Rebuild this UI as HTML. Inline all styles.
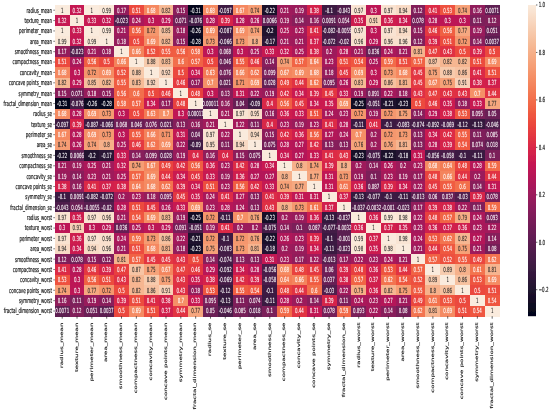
<!DOCTYPE html>
<html lang="en"><head><meta charset="utf-8"><title>Correlation heatmap</title>
<style>
html,body{margin:0;padding:0;background:#fff;}
body{width:550px;height:411px;overflow:hidden;}
svg{display:block;font-family:"DejaVu Sans","Liberation Sans",sans-serif;}
</style></head><body>
<svg width="550" height="411" viewBox="87.51 61.99 1379.95 585.75" preserveAspectRatio="none">
<rect x="87.51" y="61.99" width="1379.95" height="585.75" fill="#fff"/>
<defs><filter id="bl" x="-2%" y="-2%" width="104%" height="104%"><feGaussianBlur stdDeviation="0.75 0.4"/></filter></defs>
<g shape-rendering="crispEdges">
<rect x="225.00" y="69.12" width="37.70" height="15.28" fill="#faebdd"/>
<rect x="262.20" y="69.12" width="37.70" height="15.28" fill="#c51852"/>
<rect x="299.40" y="69.12" width="37.70" height="15.28" fill="#faebdd"/>
<rect x="336.60" y="69.12" width="37.70" height="15.28" fill="#fae8d8"/>
<rect x="373.80" y="69.12" width="37.70" height="15.28" fill="#931c5b"/>
<rect x="411.00" y="69.12" width="37.70" height="15.28" fill="#ec4a3e"/>
<rect x="448.20" y="69.12" width="37.70" height="15.28" fill="#f58860"/>
<rect x="485.40" y="69.12" width="37.70" height="15.28" fill="#f6b893"/>
<rect x="522.60" y="69.12" width="37.70" height="15.28" fill="#8b1d5b"/>
<rect x="559.80" y="69.12" width="37.70" height="15.28" fill="#03051a"/>
<rect x="597.00" y="69.12" width="37.70" height="15.28" fill="#f58a61"/>
<rect x="634.20" y="69.12" width="37.70" height="15.28" fill="#3d1a42"/>
<rect x="671.40" y="69.12" width="37.70" height="15.28" fill="#f58860"/>
<rect x="708.60" y="69.12" width="37.70" height="15.28" fill="#f69c73"/>
<rect x="745.80" y="69.12" width="37.70" height="15.28" fill="#1a102a"/>
<rect x="783.00" y="69.12" width="37.70" height="15.28" fill="#9f1a5b"/>
<rect x="820.20" y="69.12" width="37.70" height="15.28" fill="#9a1b5b"/>
<rect x="857.40" y="69.12" width="37.70" height="15.28" fill="#d3214b"/>
<rect x="894.60" y="69.12" width="37.70" height="15.28" fill="#3c1a42"/>
<rect x="931.80" y="69.12" width="37.70" height="15.28" fill="#4e1d4b"/>
<rect x="969.00" y="69.12" width="37.70" height="15.28" fill="#f9e3d2"/>
<rect x="1006.20" y="69.12" width="37.70" height="15.28" fill="#bc1656"/>
<rect x="1043.40" y="69.12" width="37.70" height="15.28" fill="#f9e2d0"/>
<rect x="1080.60" y="69.12" width="37.70" height="15.28" fill="#f8dac5"/>
<rect x="1117.80" y="69.12" width="37.70" height="15.28" fill="#821e5a"/>
<rect x="1155.00" y="69.12" width="37.70" height="15.28" fill="#dc2b46"/>
<rect x="1192.20" y="69.12" width="37.70" height="15.28" fill="#ee523f"/>
<rect x="1229.40" y="69.12" width="37.70" height="15.28" fill="#f6a077"/>
<rect x="1266.60" y="69.12" width="37.70" height="15.28" fill="#901d5b"/>
<rect x="1303.80" y="69.12" width="37.70" height="15.28" fill="#5e1f52"/>
<rect x="225.00" y="83.90" width="37.70" height="15.28" fill="#c51852"/>
<rect x="262.20" y="83.90" width="37.70" height="15.28" fill="#faebdd"/>
<rect x="299.40" y="83.90" width="37.70" height="15.28" fill="#c71951"/>
<rect x="336.60" y="83.90" width="37.70" height="15.28" fill="#c41753"/>
<rect x="373.80" y="83.90" width="37.70" height="15.28" fill="#541e4e"/>
<rect x="411.00" y="83.90" width="37.70" height="15.28" fill="#aa185a"/>
<rect x="448.20" y="83.90" width="37.70" height="15.28" fill="#bd1655"/>
<rect x="485.40" y="83.90" width="37.70" height="15.28" fill="#bc1656"/>
<rect x="522.60" y="83.90" width="37.70" height="15.28" fill="#711f57"/>
<rect x="559.80" y="83.90" width="37.70" height="15.28" fill="#431c46"/>
<rect x="597.00" y="83.90" width="37.70" height="15.28" fill="#b51657"/>
<rect x="634.20" y="83.90" width="37.70" height="15.28" fill="#d62449"/>
<rect x="671.40" y="83.90" width="37.70" height="15.28" fill="#b71657"/>
<rect x="708.60" y="83.90" width="37.70" height="15.28" fill="#b01759"/>
<rect x="745.80" y="83.90" width="37.70" height="15.28" fill="#5e1f52"/>
<rect x="783.00" y="83.90" width="37.70" height="15.28" fill="#9a1b5b"/>
<rect x="820.20" y="83.90" width="37.70" height="15.28" fill="#891e5b"/>
<rect x="857.40" y="83.90" width="37.70" height="15.28" fill="#901d5b"/>
<rect x="894.60" y="83.90" width="37.70" height="15.28" fill="#5e1f52"/>
<rect x="931.80" y="83.90" width="37.70" height="15.28" fill="#6d1f56"/>
<rect x="969.00" y="83.90" width="37.70" height="15.28" fill="#cd1c4e"/>
<rect x="1006.20" y="83.90" width="37.70" height="15.28" fill="#f8d1b8"/>
<rect x="1043.40" y="83.90" width="37.70" height="15.28" fill="#ce1d4e"/>
<rect x="1080.60" y="83.90" width="37.70" height="15.28" fill="#ca1a50"/>
<rect x="1117.80" y="83.90" width="37.70" height="15.28" fill="#731f58"/>
<rect x="1155.00" y="83.90" width="37.70" height="15.28" fill="#b71657"/>
<rect x="1192.20" y="83.90" width="37.70" height="15.28" fill="#bd1655"/>
<rect x="1229.40" y="83.90" width="37.70" height="15.28" fill="#bc1656"/>
<rect x="1266.60" y="83.90" width="37.70" height="15.28" fill="#7d1f5a"/>
<rect x="1303.80" y="83.90" width="37.70" height="15.28" fill="#821e5a"/>
<rect x="225.00" y="98.69" width="37.70" height="15.28" fill="#faebdd"/>
<rect x="262.20" y="98.69" width="37.70" height="15.28" fill="#c71951"/>
<rect x="299.40" y="98.69" width="37.70" height="15.28" fill="#faebdd"/>
<rect x="336.60" y="98.69" width="37.70" height="15.28" fill="#fae8d8"/>
<rect x="373.80" y="98.69" width="37.70" height="15.28" fill="#9f1a5b"/>
<rect x="411.00" y="98.69" width="37.70" height="15.28" fill="#f05e42"/>
<rect x="448.20" y="98.69" width="37.70" height="15.28" fill="#f5966c"/>
<rect x="485.40" y="98.69" width="37.70" height="15.28" fill="#f6bf9d"/>
<rect x="522.60" y="98.69" width="37.70" height="15.28" fill="#971c5b"/>
<rect x="559.80" y="98.69" width="37.70" height="15.28" fill="#0e0b22"/>
<rect x="597.00" y="98.69" width="37.70" height="15.28" fill="#f58d64"/>
<rect x="634.20" y="98.69" width="37.70" height="15.28" fill="#401b44"/>
<rect x="671.40" y="98.69" width="37.70" height="15.28" fill="#f58f66"/>
<rect x="708.60" y="98.69" width="37.70" height="15.28" fill="#f6a077"/>
<rect x="745.80" y="98.69" width="37.70" height="15.28" fill="#20122e"/>
<rect x="783.00" y="98.69" width="37.70" height="15.28" fill="#ad1759"/>
<rect x="820.20" y="98.69" width="37.70" height="15.28" fill="#a6195a"/>
<rect x="857.40" y="98.69" width="37.70" height="15.28" fill="#db2946"/>
<rect x="894.60" y="98.69" width="37.70" height="15.28" fill="#421b45"/>
<rect x="931.80" y="98.69" width="37.70" height="15.28" fill="#591e50"/>
<rect x="969.00" y="98.69" width="37.70" height="15.28" fill="#f9e3d2"/>
<rect x="1006.20" y="98.69" width="37.70" height="15.28" fill="#bd1655"/>
<rect x="1043.40" y="98.69" width="37.70" height="15.28" fill="#f9e3d2"/>
<rect x="1080.60" y="98.69" width="37.70" height="15.28" fill="#f8dac5"/>
<rect x="1117.80" y="98.69" width="37.70" height="15.28" fill="#8c1d5b"/>
<rect x="1155.00" y="98.69" width="37.70" height="15.28" fill="#e43841"/>
<rect x="1192.20" y="98.69" width="37.70" height="15.28" fill="#f06043"/>
<rect x="1229.40" y="98.69" width="37.70" height="15.28" fill="#f6a880"/>
<rect x="1266.60" y="98.69" width="37.70" height="15.28" fill="#981b5b"/>
<rect x="1303.80" y="98.69" width="37.70" height="15.28" fill="#6b1f56"/>
<rect x="225.00" y="113.47" width="37.70" height="15.28" fill="#fae8d8"/>
<rect x="262.20" y="113.47" width="37.70" height="15.28" fill="#c41753"/>
<rect x="299.40" y="113.47" width="37.70" height="15.28" fill="#fae8d8"/>
<rect x="336.60" y="113.47" width="37.70" height="15.28" fill="#faebdd"/>
<rect x="373.80" y="113.47" width="37.70" height="15.28" fill="#951c5b"/>
<rect x="411.00" y="113.47" width="37.70" height="15.28" fill="#eb483e"/>
<rect x="448.20" y="113.47" width="37.70" height="15.28" fill="#f58b63"/>
<rect x="485.40" y="113.47" width="37.70" height="15.28" fill="#f6b893"/>
<rect x="522.60" y="113.47" width="37.70" height="15.28" fill="#8c1d5b"/>
<rect x="559.80" y="113.47" width="37.70" height="15.28" fill="#08081e"/>
<rect x="597.00" y="113.47" width="37.70" height="15.28" fill="#f69b71"/>
<rect x="634.20" y="113.47" width="37.70" height="15.28" fill="#461c48"/>
<rect x="671.40" y="113.47" width="37.70" height="15.28" fill="#f59970"/>
<rect x="708.60" y="113.47" width="37.70" height="15.28" fill="#f6b089"/>
<rect x="745.80" y="113.47" width="37.70" height="15.28" fill="#2a1636"/>
<rect x="783.00" y="113.47" width="37.70" height="15.28" fill="#a11a5b"/>
<rect x="820.20" y="113.47" width="37.70" height="15.28" fill="#9f1a5b"/>
<rect x="857.40" y="113.47" width="37.70" height="15.28" fill="#d2204c"/>
<rect x="894.60" y="113.47" width="37.70" height="15.28" fill="#451c47"/>
<rect x="931.80" y="113.47" width="37.70" height="15.28" fill="#541e4e"/>
<rect x="969.00" y="113.47" width="37.70" height="15.28" fill="#f9e0cd"/>
<rect x="1006.20" y="113.47" width="37.70" height="15.28" fill="#b91657"/>
<rect x="1043.40" y="113.47" width="37.70" height="15.28" fill="#f9e0cd"/>
<rect x="1080.60" y="113.47" width="37.70" height="15.28" fill="#f9e0cd"/>
<rect x="1117.80" y="113.47" width="37.70" height="15.28" fill="#821e5a"/>
<rect x="1155.00" y="113.47" width="37.70" height="15.28" fill="#d72549"/>
<rect x="1192.20" y="113.47" width="37.70" height="15.28" fill="#ec4c3e"/>
<rect x="1229.40" y="113.47" width="37.70" height="15.28" fill="#f5976e"/>
<rect x="1266.60" y="113.47" width="37.70" height="15.28" fill="#891e5b"/>
<rect x="1303.80" y="113.47" width="37.70" height="15.28" fill="#5c1e51"/>
<rect x="225.00" y="128.26" width="37.70" height="15.28" fill="#931c5b"/>
<rect x="262.20" y="128.26" width="37.70" height="15.28" fill="#541e4e"/>
<rect x="299.40" y="128.26" width="37.70" height="15.28" fill="#9f1a5b"/>
<rect x="336.60" y="128.26" width="37.70" height="15.28" fill="#951c5b"/>
<rect x="373.80" y="128.26" width="37.70" height="15.28" fill="#faebdd"/>
<rect x="411.00" y="128.26" width="37.70" height="15.28" fill="#f4835b"/>
<rect x="448.20" y="128.26" width="37.70" height="15.28" fill="#ed503e"/>
<rect x="485.40" y="128.26" width="37.70" height="15.28" fill="#f05c42"/>
<rect x="522.60" y="128.26" width="37.70" height="15.28" fill="#f05e42"/>
<rect x="559.80" y="128.26" width="37.70" height="15.28" fill="#f26747"/>
<rect x="597.00" y="128.26" width="37.70" height="15.28" fill="#bd1655"/>
<rect x="634.20" y="128.26" width="37.70" height="15.28" fill="#711f57"/>
<rect x="671.40" y="128.26" width="37.70" height="15.28" fill="#bc1656"/>
<rect x="708.60" y="128.26" width="37.70" height="15.28" fill="#ab185a"/>
<rect x="745.80" y="128.26" width="37.70" height="15.28" fill="#c71951"/>
<rect x="783.00" y="128.26" width="37.70" height="15.28" fill="#c41753"/>
<rect x="820.20" y="128.26" width="37.70" height="15.28" fill="#ad1759"/>
<rect x="857.40" y="128.26" width="37.70" height="15.28" fill="#d5224a"/>
<rect x="894.60" y="128.26" width="37.70" height="15.28" fill="#9e1a5b"/>
<rect x="931.80" y="128.26" width="37.70" height="15.28" fill="#b91657"/>
<rect x="969.00" y="128.26" width="37.70" height="15.28" fill="#a11a5b"/>
<rect x="1006.20" y="128.26" width="37.70" height="15.28" fill="#661f54"/>
<rect x="1043.40" y="128.26" width="37.70" height="15.28" fill="#aa185a"/>
<rect x="1080.60" y="128.26" width="37.70" height="15.28" fill="#9f1a5b"/>
<rect x="1117.80" y="128.26" width="37.70" height="15.28" fill="#f6b38d"/>
<rect x="1155.00" y="128.26" width="37.70" height="15.28" fill="#e83f3f"/>
<rect x="1192.20" y="128.26" width="37.70" height="15.28" fill="#e03143"/>
<rect x="1229.40" y="128.26" width="37.70" height="15.28" fill="#ec4a3e"/>
<rect x="1266.60" y="128.26" width="37.70" height="15.28" fill="#d72549"/>
<rect x="1303.80" y="128.26" width="37.70" height="15.28" fill="#eb483e"/>
<rect x="225.00" y="143.04" width="37.70" height="15.28" fill="#ec4a3e"/>
<rect x="262.20" y="143.04" width="37.70" height="15.28" fill="#aa185a"/>
<rect x="299.40" y="143.04" width="37.70" height="15.28" fill="#f05e42"/>
<rect x="336.60" y="143.04" width="37.70" height="15.28" fill="#eb483e"/>
<rect x="373.80" y="143.04" width="37.70" height="15.28" fill="#f4835b"/>
<rect x="411.00" y="143.04" width="37.70" height="15.28" fill="#faebdd"/>
<rect x="448.20" y="143.04" width="37.70" height="15.28" fill="#f7caac"/>
<rect x="485.40" y="143.04" width="37.70" height="15.28" fill="#f6bb97"/>
<rect x="522.60" y="143.04" width="37.70" height="15.28" fill="#f26f4c"/>
<rect x="559.80" y="143.04" width="37.70" height="15.28" fill="#f16244"/>
<rect x="597.00" y="143.04" width="37.70" height="15.28" fill="#eb463e"/>
<rect x="634.20" y="143.04" width="37.70" height="15.28" fill="#691f55"/>
<rect x="671.40" y="143.04" width="37.70" height="15.28" fill="#ef5a41"/>
<rect x="708.60" y="143.04" width="37.70" height="15.28" fill="#e43841"/>
<rect x="745.80" y="143.04" width="37.70" height="15.28" fill="#871e5b"/>
<rect x="783.00" y="143.04" width="37.70" height="15.28" fill="#f69e75"/>
<rect x="820.20" y="143.04" width="37.70" height="15.28" fill="#f16445"/>
<rect x="857.40" y="143.04" width="37.70" height="15.28" fill="#f47d57"/>
<rect x="894.60" y="143.04" width="37.70" height="15.28" fill="#a6195a"/>
<rect x="931.80" y="143.04" width="37.70" height="15.28" fill="#ec4a3e"/>
<rect x="969.00" y="143.04" width="37.70" height="15.28" fill="#ef5640"/>
<rect x="1006.20" y="143.04" width="37.70" height="15.28" fill="#ad1759"/>
<rect x="1043.40" y="143.04" width="37.70" height="15.28" fill="#f26b49"/>
<rect x="1080.60" y="143.04" width="37.70" height="15.28" fill="#ec4c3e"/>
<rect x="1117.80" y="143.04" width="37.70" height="15.28" fill="#f16244"/>
<rect x="1155.00" y="143.04" width="37.70" height="15.28" fill="#f7c4a4"/>
<rect x="1192.20" y="143.04" width="37.70" height="15.28" fill="#f6b691"/>
<rect x="1229.40" y="143.04" width="37.70" height="15.28" fill="#f6b691"/>
<rect x="1266.60" y="143.04" width="37.70" height="15.28" fill="#ec4c3e"/>
<rect x="1303.80" y="143.04" width="37.70" height="15.28" fill="#f58b63"/>
<rect x="225.00" y="157.82" width="37.70" height="15.28" fill="#f58860"/>
<rect x="262.20" y="157.82" width="37.70" height="15.28" fill="#bd1655"/>
<rect x="299.40" y="157.82" width="37.70" height="15.28" fill="#f5966c"/>
<rect x="336.60" y="157.82" width="37.70" height="15.28" fill="#f58b63"/>
<rect x="373.80" y="157.82" width="37.70" height="15.28" fill="#ed503e"/>
<rect x="411.00" y="157.82" width="37.70" height="15.28" fill="#f7caac"/>
<rect x="448.20" y="157.82" width="37.70" height="15.28" fill="#faebdd"/>
<rect x="485.40" y="157.82" width="37.70" height="15.28" fill="#f8d4bc"/>
<rect x="522.60" y="157.82" width="37.70" height="15.28" fill="#eb483e"/>
<rect x="559.80" y="157.82" width="37.70" height="15.28" fill="#c81951"/>
<rect x="597.00" y="157.82" width="37.70" height="15.28" fill="#f47a54"/>
<rect x="634.20" y="157.82" width="37.70" height="15.28" fill="#731f58"/>
<rect x="671.40" y="157.82" width="37.70" height="15.28" fill="#f4835b"/>
<rect x="708.60" y="157.82" width="37.70" height="15.28" fill="#f37450"/>
<rect x="745.80" y="157.82" width="37.70" height="15.28" fill="#7b1f59"/>
<rect x="783.00" y="157.82" width="37.70" height="15.28" fill="#f4865e"/>
<rect x="820.20" y="157.82" width="37.70" height="15.28" fill="#f58d64"/>
<rect x="857.40" y="157.82" width="37.70" height="15.28" fill="#f58b63"/>
<rect x="894.60" y="157.82" width="37.70" height="15.28" fill="#951c5b"/>
<rect x="931.80" y="157.82" width="37.70" height="15.28" fill="#e33641"/>
<rect x="969.00" y="157.82" width="37.70" height="15.28" fill="#f58d64"/>
<rect x="1006.20" y="157.82" width="37.70" height="15.28" fill="#bd1655"/>
<rect x="1043.40" y="157.82" width="37.70" height="15.28" fill="#f69b71"/>
<rect x="1080.60" y="157.82" width="37.70" height="15.28" fill="#f58860"/>
<rect x="1117.80" y="157.82" width="37.70" height="15.28" fill="#e33641"/>
<rect x="1155.00" y="157.82" width="37.70" height="15.28" fill="#f6a37a"/>
<rect x="1192.20" y="157.82" width="37.70" height="15.28" fill="#f7caac"/>
<rect x="1229.40" y="157.82" width="37.70" height="15.28" fill="#f7c2a2"/>
<rect x="1266.60" y="157.82" width="37.70" height="15.28" fill="#db2946"/>
<rect x="1303.80" y="157.82" width="37.70" height="15.28" fill="#ed4e3e"/>
<rect x="225.00" y="172.61" width="37.70" height="15.28" fill="#f6b893"/>
<rect x="262.20" y="172.61" width="37.70" height="15.28" fill="#bc1656"/>
<rect x="299.40" y="172.61" width="37.70" height="15.28" fill="#f6bf9d"/>
<rect x="336.60" y="172.61" width="37.70" height="15.28" fill="#f6b893"/>
<rect x="373.80" y="172.61" width="37.70" height="15.28" fill="#f05c42"/>
<rect x="411.00" y="172.61" width="37.70" height="15.28" fill="#f6bb97"/>
<rect x="448.20" y="172.61" width="37.70" height="15.28" fill="#f8d4bc"/>
<rect x="485.40" y="172.61" width="37.70" height="15.28" fill="#faebdd"/>
<rect x="522.60" y="172.61" width="37.70" height="15.28" fill="#e63b40"/>
<rect x="559.80" y="172.61" width="37.70" height="15.28" fill="#921c5b"/>
<rect x="597.00" y="172.61" width="37.70" height="15.28" fill="#f59067"/>
<rect x="634.20" y="172.61" width="37.70" height="15.28" fill="#631f53"/>
<rect x="671.40" y="172.61" width="37.70" height="15.28" fill="#f5946b"/>
<rect x="708.60" y="172.61" width="37.70" height="15.28" fill="#f58d64"/>
<rect x="745.80" y="172.61" width="37.70" height="15.28" fill="#641f54"/>
<rect x="783.00" y="172.61" width="37.70" height="15.28" fill="#ea443e"/>
<rect x="820.20" y="172.61" width="37.70" height="15.28" fill="#e13342"/>
<rect x="857.40" y="172.61" width="37.70" height="15.28" fill="#f3734e"/>
<rect x="894.60" y="172.61" width="37.70" height="15.28" fill="#7a1f59"/>
<rect x="931.80" y="172.61" width="37.70" height="15.28" fill="#b01759"/>
<rect x="969.00" y="172.61" width="37.70" height="15.28" fill="#f6b995"/>
<rect x="1006.20" y="172.61" width="37.70" height="15.28" fill="#ba1656"/>
<rect x="1043.40" y="172.61" width="37.70" height="15.28" fill="#f6c19f"/>
<rect x="1080.60" y="172.61" width="37.70" height="15.28" fill="#f6b38d"/>
<rect x="1117.80" y="172.61" width="37.70" height="15.28" fill="#e43841"/>
<rect x="1155.00" y="172.61" width="37.70" height="15.28" fill="#f4865e"/>
<rect x="1192.20" y="172.61" width="37.70" height="15.28" fill="#f6a178"/>
<rect x="1229.40" y="172.61" width="37.70" height="15.28" fill="#f8d1b8"/>
<rect x="1266.60" y="172.61" width="37.70" height="15.28" fill="#d3214b"/>
<rect x="1303.80" y="172.61" width="37.70" height="15.28" fill="#d11f4c"/>
<rect x="225.00" y="187.39" width="37.70" height="15.28" fill="#8b1d5b"/>
<rect x="262.20" y="187.39" width="37.70" height="15.28" fill="#711f57"/>
<rect x="299.40" y="187.39" width="37.70" height="15.28" fill="#971c5b"/>
<rect x="336.60" y="187.39" width="37.70" height="15.28" fill="#8c1d5b"/>
<rect x="373.80" y="187.39" width="37.70" height="15.28" fill="#f05e42"/>
<rect x="411.00" y="187.39" width="37.70" height="15.28" fill="#f26f4c"/>
<rect x="448.20" y="187.39" width="37.70" height="15.28" fill="#eb483e"/>
<rect x="485.40" y="187.39" width="37.70" height="15.28" fill="#e63b40"/>
<rect x="522.60" y="187.39" width="37.70" height="15.28" fill="#faebdd"/>
<rect x="559.80" y="187.39" width="37.70" height="15.28" fill="#e8403e"/>
<rect x="597.00" y="187.39" width="37.70" height="15.28" fill="#bf1654"/>
<rect x="634.20" y="187.39" width="37.70" height="15.28" fill="#841e5a"/>
<rect x="671.40" y="187.39" width="37.70" height="15.28" fill="#c21753"/>
<rect x="708.60" y="187.39" width="37.70" height="15.28" fill="#a4195b"/>
<rect x="745.80" y="187.39" width="37.70" height="15.28" fill="#981b5b"/>
<rect x="783.00" y="187.39" width="37.70" height="15.28" fill="#de2e44"/>
<rect x="820.20" y="187.39" width="37.70" height="15.28" fill="#ca1a50"/>
<rect x="857.40" y="187.39" width="37.70" height="15.28" fill="#d72549"/>
<rect x="894.60" y="187.39" width="37.70" height="15.28" fill="#e33641"/>
<rect x="931.80" y="187.39" width="37.70" height="15.28" fill="#c71951"/>
<rect x="969.00" y="187.39" width="37.70" height="15.28" fill="#981b5b"/>
<rect x="1006.20" y="187.39" width="37.70" height="15.28" fill="#781f59"/>
<rect x="1043.40" y="187.39" width="37.70" height="15.28" fill="#a3195b"/>
<rect x="1080.60" y="187.39" width="37.70" height="15.28" fill="#951c5b"/>
<rect x="1117.80" y="187.39" width="37.70" height="15.28" fill="#df2f44"/>
<rect x="1155.00" y="187.39" width="37.70" height="15.28" fill="#e83f3f"/>
<rect x="1192.20" y="187.39" width="37.70" height="15.28" fill="#e03143"/>
<rect x="1229.40" y="187.39" width="37.70" height="15.28" fill="#df2f44"/>
<rect x="1266.60" y="187.39" width="37.70" height="15.28" fill="#f59067"/>
<rect x="1303.80" y="187.39" width="37.70" height="15.28" fill="#e13342"/>
<rect x="225.00" y="202.18" width="37.70" height="15.28" fill="#03051a"/>
<rect x="262.20" y="202.18" width="37.70" height="15.28" fill="#431c46"/>
<rect x="299.40" y="202.18" width="37.70" height="15.28" fill="#0e0b22"/>
<rect x="336.60" y="202.18" width="37.70" height="15.28" fill="#08081e"/>
<rect x="373.80" y="202.18" width="37.70" height="15.28" fill="#f26747"/>
<rect x="411.00" y="202.18" width="37.70" height="15.28" fill="#f16244"/>
<rect x="448.20" y="202.18" width="37.70" height="15.28" fill="#c81951"/>
<rect x="485.40" y="202.18" width="37.70" height="15.28" fill="#921c5b"/>
<rect x="522.60" y="202.18" width="37.70" height="15.28" fill="#e8403e"/>
<rect x="559.80" y="202.18" width="37.70" height="15.28" fill="#faebdd"/>
<rect x="597.00" y="202.18" width="37.70" height="15.28" fill="#5b1e51"/>
<rect x="634.20" y="202.18" width="37.70" height="15.28" fill="#901d5b"/>
<rect x="671.40" y="202.18" width="37.70" height="15.28" fill="#681f55"/>
<rect x="708.60" y="202.18" width="37.70" height="15.28" fill="#401b44"/>
<rect x="745.80" y="202.18" width="37.70" height="15.28" fill="#d92847"/>
<rect x="783.00" y="202.18" width="37.70" height="15.28" fill="#f06043"/>
<rect x="820.20" y="202.18" width="37.70" height="15.28" fill="#e23442"/>
<rect x="857.40" y="202.18" width="37.70" height="15.28" fill="#ca1a50"/>
<rect x="894.60" y="202.18" width="37.70" height="15.28" fill="#cb1b4f"/>
<rect x="931.80" y="202.18" width="37.70" height="15.28" fill="#f58d64"/>
<rect x="969.00" y="202.18" width="37.70" height="15.28" fill="#110c24"/>
<rect x="1006.20" y="202.18" width="37.70" height="15.28" fill="#4b1d4a"/>
<rect x="1043.40" y="202.18" width="37.70" height="15.28" fill="#1e122d"/>
<rect x="1080.60" y="202.18" width="37.70" height="15.28" fill="#170f28"/>
<rect x="1117.80" y="202.18" width="37.70" height="15.28" fill="#ec4a3e"/>
<rect x="1155.00" y="202.18" width="37.70" height="15.28" fill="#e53940"/>
<rect x="1192.20" y="202.18" width="37.70" height="15.28" fill="#cb1b4f"/>
<rect x="1229.40" y="202.18" width="37.70" height="15.28" fill="#951c5b"/>
<rect x="1266.60" y="202.18" width="37.70" height="15.28" fill="#c81951"/>
<rect x="1303.80" y="202.18" width="37.70" height="15.28" fill="#f6a67e"/>
<rect x="225.00" y="216.96" width="37.70" height="15.28" fill="#f58a61"/>
<rect x="262.20" y="216.96" width="37.70" height="15.28" fill="#b51657"/>
<rect x="299.40" y="216.96" width="37.70" height="15.28" fill="#f58d64"/>
<rect x="336.60" y="216.96" width="37.70" height="15.28" fill="#f69b71"/>
<rect x="373.80" y="216.96" width="37.70" height="15.28" fill="#bd1655"/>
<rect x="411.00" y="216.96" width="37.70" height="15.28" fill="#eb463e"/>
<rect x="448.20" y="216.96" width="37.70" height="15.28" fill="#f47a54"/>
<rect x="485.40" y="216.96" width="37.70" height="15.28" fill="#f59067"/>
<rect x="522.60" y="216.96" width="37.70" height="15.28" fill="#bf1654"/>
<rect x="559.80" y="216.96" width="37.70" height="15.28" fill="#5b1e51"/>
<rect x="597.00" y="216.96" width="37.70" height="15.28" fill="#faebdd"/>
<rect x="634.20" y="216.96" width="37.70" height="15.28" fill="#a11a5b"/>
<rect x="671.40" y="216.96" width="37.70" height="15.28" fill="#f9e3d2"/>
<rect x="708.60" y="216.96" width="37.70" height="15.28" fill="#f9ddc9"/>
<rect x="745.80" y="216.96" width="37.70" height="15.28" fill="#901d5b"/>
<rect x="783.00" y="216.96" width="37.70" height="15.28" fill="#ce1d4e"/>
<rect x="820.20" y="216.96" width="37.70" height="15.28" fill="#c71951"/>
<rect x="857.40" y="216.96" width="37.70" height="15.28" fill="#ed4e3e"/>
<rect x="894.60" y="216.96" width="37.70" height="15.28" fill="#aa185a"/>
<rect x="931.80" y="216.96" width="37.70" height="15.28" fill="#a6195a"/>
<rect x="969.00" y="216.96" width="37.70" height="15.28" fill="#f5966c"/>
<rect x="1006.20" y="216.96" width="37.70" height="15.28" fill="#9a1b5b"/>
<rect x="1043.40" y="216.96" width="37.70" height="15.28" fill="#f5976e"/>
<rect x="1080.60" y="216.96" width="37.70" height="15.28" fill="#f6a178"/>
<rect x="1117.80" y="216.96" width="37.70" height="15.28" fill="#891e5b"/>
<rect x="1155.00" y="216.96" width="37.70" height="15.28" fill="#b91657"/>
<rect x="1192.20" y="216.96" width="37.70" height="15.28" fill="#d5224a"/>
<rect x="1229.40" y="216.96" width="37.70" height="15.28" fill="#ee543f"/>
<rect x="1266.60" y="216.96" width="37.70" height="15.28" fill="#7a1f59"/>
<rect x="1303.80" y="216.96" width="37.70" height="15.28" fill="#6b1f56"/>
<rect x="225.00" y="231.74" width="37.70" height="15.28" fill="#3d1a42"/>
<rect x="262.20" y="231.74" width="37.70" height="15.28" fill="#d62449"/>
<rect x="299.40" y="231.74" width="37.70" height="15.28" fill="#401b44"/>
<rect x="336.60" y="231.74" width="37.70" height="15.28" fill="#461c48"/>
<rect x="373.80" y="231.74" width="37.70" height="15.28" fill="#711f57"/>
<rect x="411.00" y="231.74" width="37.70" height="15.28" fill="#691f55"/>
<rect x="448.20" y="231.74" width="37.70" height="15.28" fill="#731f58"/>
<rect x="485.40" y="231.74" width="37.70" height="15.28" fill="#631f53"/>
<rect x="522.60" y="231.74" width="37.70" height="15.28" fill="#841e5a"/>
<rect x="559.80" y="231.74" width="37.70" height="15.28" fill="#901d5b"/>
<rect x="597.00" y="231.74" width="37.70" height="15.28" fill="#a11a5b"/>
<rect x="634.20" y="231.74" width="37.70" height="15.28" fill="#faebdd"/>
<rect x="671.40" y="231.74" width="37.70" height="15.28" fill="#a4195b"/>
<rect x="708.60" y="231.74" width="37.70" height="15.28" fill="#7f1e5a"/>
<rect x="745.80" y="231.74" width="37.70" height="15.28" fill="#d82748"/>
<rect x="783.00" y="231.74" width="37.70" height="15.28" fill="#a8185a"/>
<rect x="820.20" y="231.74" width="37.70" height="15.28" fill="#9a1b5b"/>
<rect x="857.40" y="231.74" width="37.70" height="15.28" fill="#a6195a"/>
<rect x="894.60" y="231.74" width="37.70" height="15.28" fill="#dc2b46"/>
<rect x="931.80" y="231.74" width="37.70" height="15.28" fill="#b71657"/>
<rect x="969.00" y="231.74" width="37.70" height="15.28" fill="#3a1a41"/>
<rect x="1006.20" y="231.74" width="37.70" height="15.28" fill="#db2946"/>
<rect x="1043.40" y="231.74" width="37.70" height="15.28" fill="#3c1a42"/>
<rect x="1080.60" y="231.74" width="37.70" height="15.28" fill="#421b45"/>
<rect x="1117.80" y="231.74" width="37.70" height="15.28" fill="#451c47"/>
<rect x="1155.00" y="231.74" width="37.70" height="15.28" fill="#3f1b43"/>
<rect x="1192.20" y="231.74" width="37.70" height="15.28" fill="#461c48"/>
<rect x="1229.40" y="231.74" width="37.70" height="15.28" fill="#37193f"/>
<rect x="1266.60" y="231.74" width="37.70" height="15.28" fill="#34193d"/>
<rect x="1303.80" y="231.74" width="37.70" height="15.28" fill="#4c1d4b"/>
<rect x="225.00" y="246.53" width="37.70" height="15.28" fill="#f58860"/>
<rect x="262.20" y="246.53" width="37.70" height="15.28" fill="#b71657"/>
<rect x="299.40" y="246.53" width="37.70" height="15.28" fill="#f58f66"/>
<rect x="336.60" y="246.53" width="37.70" height="15.28" fill="#f59970"/>
<rect x="373.80" y="246.53" width="37.70" height="15.28" fill="#bc1656"/>
<rect x="411.00" y="246.53" width="37.70" height="15.28" fill="#ef5a41"/>
<rect x="448.20" y="246.53" width="37.70" height="15.28" fill="#f4835b"/>
<rect x="485.40" y="246.53" width="37.70" height="15.28" fill="#f5946b"/>
<rect x="522.60" y="246.53" width="37.70" height="15.28" fill="#c21753"/>
<rect x="559.80" y="246.53" width="37.70" height="15.28" fill="#681f55"/>
<rect x="597.00" y="246.53" width="37.70" height="15.28" fill="#f9e3d2"/>
<rect x="634.20" y="246.53" width="37.70" height="15.28" fill="#a4195b"/>
<rect x="671.40" y="246.53" width="37.70" height="15.28" fill="#faebdd"/>
<rect x="708.60" y="246.53" width="37.70" height="15.28" fill="#f8d9c3"/>
<rect x="745.80" y="246.53" width="37.70" height="15.28" fill="#8c1d5b"/>
<rect x="783.00" y="246.53" width="37.70" height="15.28" fill="#dd2c45"/>
<rect x="820.20" y="246.53" width="37.70" height="15.28" fill="#cf1e4d"/>
<rect x="857.40" y="246.53" width="37.70" height="15.28" fill="#f05e42"/>
<rect x="894.60" y="246.53" width="37.70" height="15.28" fill="#b21758"/>
<rect x="931.80" y="246.53" width="37.70" height="15.28" fill="#ab185a"/>
<rect x="969.00" y="246.53" width="37.70" height="15.28" fill="#f58f66"/>
<rect x="1006.20" y="246.53" width="37.70" height="15.28" fill="#9c1b5b"/>
<rect x="1043.40" y="246.53" width="37.70" height="15.28" fill="#f5976e"/>
<rect x="1080.60" y="246.53" width="37.70" height="15.28" fill="#f69b71"/>
<rect x="1117.80" y="246.53" width="37.70" height="15.28" fill="#861e5b"/>
<rect x="1155.00" y="246.53" width="37.70" height="15.28" fill="#ca1a50"/>
<rect x="1192.20" y="246.53" width="37.70" height="15.28" fill="#dd2c45"/>
<rect x="1229.40" y="246.53" width="37.70" height="15.28" fill="#f05e42"/>
<rect x="1266.60" y="246.53" width="37.70" height="15.28" fill="#7f1e5a"/>
<rect x="1303.80" y="246.53" width="37.70" height="15.28" fill="#761f58"/>
<rect x="225.00" y="261.31" width="37.70" height="15.28" fill="#f69c73"/>
<rect x="262.20" y="261.31" width="37.70" height="15.28" fill="#b01759"/>
<rect x="299.40" y="261.31" width="37.70" height="15.28" fill="#f6a077"/>
<rect x="336.60" y="261.31" width="37.70" height="15.28" fill="#f6b089"/>
<rect x="373.80" y="261.31" width="37.70" height="15.28" fill="#ab185a"/>
<rect x="411.00" y="261.31" width="37.70" height="15.28" fill="#e43841"/>
<rect x="448.20" y="261.31" width="37.70" height="15.28" fill="#f37450"/>
<rect x="485.40" y="261.31" width="37.70" height="15.28" fill="#f58d64"/>
<rect x="522.60" y="261.31" width="37.70" height="15.28" fill="#a4195b"/>
<rect x="559.80" y="261.31" width="37.70" height="15.28" fill="#401b44"/>
<rect x="597.00" y="261.31" width="37.70" height="15.28" fill="#f9ddc9"/>
<rect x="634.20" y="261.31" width="37.70" height="15.28" fill="#7f1e5a"/>
<rect x="671.40" y="261.31" width="37.70" height="15.28" fill="#f8d9c3"/>
<rect x="708.60" y="261.31" width="37.70" height="15.28" fill="#faebdd"/>
<rect x="745.80" y="261.31" width="37.70" height="15.28" fill="#731f58"/>
<rect x="783.00" y="261.31" width="37.70" height="15.28" fill="#b91657"/>
<rect x="820.20" y="261.31" width="37.70" height="15.28" fill="#b41658"/>
<rect x="857.40" y="261.31" width="37.70" height="15.28" fill="#dc2b46"/>
<rect x="894.60" y="261.31" width="37.70" height="15.28" fill="#861e5b"/>
<rect x="931.80" y="261.31" width="37.70" height="15.28" fill="#841e5a"/>
<rect x="969.00" y="261.31" width="37.70" height="15.28" fill="#f6a37a"/>
<rect x="1006.20" y="261.31" width="37.70" height="15.28" fill="#9c1b5b"/>
<rect x="1043.40" y="261.31" width="37.70" height="15.28" fill="#f6a47c"/>
<rect x="1080.60" y="261.31" width="37.70" height="15.28" fill="#f6b48f"/>
<rect x="1117.80" y="261.31" width="37.70" height="15.28" fill="#841e5a"/>
<rect x="1155.00" y="261.31" width="37.70" height="15.28" fill="#b91657"/>
<rect x="1192.20" y="261.31" width="37.70" height="15.28" fill="#d5224a"/>
<rect x="1229.40" y="261.31" width="37.70" height="15.28" fill="#ef5640"/>
<rect x="1266.60" y="261.31" width="37.70" height="15.28" fill="#731f58"/>
<rect x="1303.80" y="261.31" width="37.70" height="15.28" fill="#611f53"/>
<rect x="225.00" y="276.10" width="37.70" height="15.28" fill="#1a102a"/>
<rect x="262.20" y="276.10" width="37.70" height="15.28" fill="#5e1f52"/>
<rect x="299.40" y="276.10" width="37.70" height="15.28" fill="#20122e"/>
<rect x="336.60" y="276.10" width="37.70" height="15.28" fill="#2a1636"/>
<rect x="373.80" y="276.10" width="37.70" height="15.28" fill="#c71951"/>
<rect x="411.00" y="276.10" width="37.70" height="15.28" fill="#871e5b"/>
<rect x="448.20" y="276.10" width="37.70" height="15.28" fill="#7b1f59"/>
<rect x="485.40" y="276.10" width="37.70" height="15.28" fill="#641f54"/>
<rect x="522.60" y="276.10" width="37.70" height="15.28" fill="#981b5b"/>
<rect x="559.80" y="276.10" width="37.70" height="15.28" fill="#d92847"/>
<rect x="597.00" y="276.10" width="37.70" height="15.28" fill="#901d5b"/>
<rect x="634.20" y="276.10" width="37.70" height="15.28" fill="#d82748"/>
<rect x="671.40" y="276.10" width="37.70" height="15.28" fill="#8c1d5b"/>
<rect x="708.60" y="276.10" width="37.70" height="15.28" fill="#731f58"/>
<rect x="745.80" y="276.10" width="37.70" height="15.28" fill="#faebdd"/>
<rect x="783.00" y="276.10" width="37.70" height="15.28" fill="#c81951"/>
<rect x="820.20" y="276.10" width="37.70" height="15.28" fill="#b41658"/>
<rect x="857.40" y="276.10" width="37.70" height="15.28" fill="#c51852"/>
<rect x="894.60" y="276.10" width="37.70" height="15.28" fill="#dc2b46"/>
<rect x="931.80" y="276.10" width="37.70" height="15.28" fill="#df2f44"/>
<rect x="969.00" y="276.10" width="37.70" height="15.28" fill="#170f28"/>
<rect x="1006.20" y="276.10" width="37.70" height="15.28" fill="#451c47"/>
<rect x="1043.40" y="276.10" width="37.70" height="15.28" fill="#1b112b"/>
<rect x="1080.60" y="276.10" width="37.70" height="15.28" fill="#251433"/>
<rect x="1117.80" y="276.10" width="37.70" height="15.28" fill="#c21753"/>
<rect x="1155.00" y="276.10" width="37.70" height="15.28" fill="#491d49"/>
<rect x="1192.20" y="276.10" width="37.70" height="15.28" fill="#491d49"/>
<rect x="1229.40" y="276.10" width="37.70" height="15.28" fill="#3c1a42"/>
<rect x="1266.60" y="276.10" width="37.70" height="15.28" fill="#3a1a41"/>
<rect x="1303.80" y="276.10" width="37.70" height="15.28" fill="#7b1f59"/>
<rect x="225.00" y="290.88" width="37.70" height="15.28" fill="#9f1a5b"/>
<rect x="262.20" y="290.88" width="37.70" height="15.28" fill="#9a1b5b"/>
<rect x="299.40" y="290.88" width="37.70" height="15.28" fill="#ad1759"/>
<rect x="336.60" y="290.88" width="37.70" height="15.28" fill="#a11a5b"/>
<rect x="373.80" y="290.88" width="37.70" height="15.28" fill="#c41753"/>
<rect x="411.00" y="290.88" width="37.70" height="15.28" fill="#f69e75"/>
<rect x="448.20" y="290.88" width="37.70" height="15.28" fill="#f4865e"/>
<rect x="485.40" y="290.88" width="37.70" height="15.28" fill="#ea443e"/>
<rect x="522.60" y="290.88" width="37.70" height="15.28" fill="#de2e44"/>
<rect x="559.80" y="290.88" width="37.70" height="15.28" fill="#f06043"/>
<rect x="597.00" y="290.88" width="37.70" height="15.28" fill="#ce1d4e"/>
<rect x="634.20" y="290.88" width="37.70" height="15.28" fill="#a8185a"/>
<rect x="671.40" y="290.88" width="37.70" height="15.28" fill="#dd2c45"/>
<rect x="708.60" y="290.88" width="37.70" height="15.28" fill="#b91657"/>
<rect x="745.80" y="290.88" width="37.70" height="15.28" fill="#c81951"/>
<rect x="783.00" y="290.88" width="37.70" height="15.28" fill="#faebdd"/>
<rect x="820.20" y="290.88" width="37.70" height="15.28" fill="#f6b18b"/>
<rect x="857.40" y="290.88" width="37.70" height="15.28" fill="#f6a077"/>
<rect x="894.60" y="290.88" width="37.70" height="15.28" fill="#d72549"/>
<rect x="931.80" y="290.88" width="37.70" height="15.28" fill="#f6b18b"/>
<rect x="969.00" y="290.88" width="37.70" height="15.28" fill="#9e1a5b"/>
<rect x="1006.20" y="290.88" width="37.70" height="15.28" fill="#891e5b"/>
<rect x="1043.40" y="290.88" width="37.70" height="15.28" fill="#b01759"/>
<rect x="1080.60" y="290.88" width="37.70" height="15.28" fill="#9c1b5b"/>
<rect x="1117.80" y="290.88" width="37.70" height="15.28" fill="#a6195a"/>
<rect x="1155.00" y="290.88" width="37.70" height="15.28" fill="#f58a61"/>
<rect x="1192.20" y="290.88" width="37.70" height="15.28" fill="#f47c55"/>
<rect x="1229.40" y="290.88" width="37.70" height="15.28" fill="#e9423e"/>
<rect x="1266.60" y="290.88" width="37.70" height="15.28" fill="#b71657"/>
<rect x="1303.80" y="290.88" width="37.70" height="15.28" fill="#f26b49"/>
<rect x="225.00" y="305.66" width="37.70" height="15.28" fill="#9a1b5b"/>
<rect x="262.20" y="305.66" width="37.70" height="15.28" fill="#891e5b"/>
<rect x="299.40" y="305.66" width="37.70" height="15.28" fill="#a6195a"/>
<rect x="336.60" y="305.66" width="37.70" height="15.28" fill="#9f1a5b"/>
<rect x="373.80" y="305.66" width="37.70" height="15.28" fill="#ad1759"/>
<rect x="411.00" y="305.66" width="37.70" height="15.28" fill="#f16445"/>
<rect x="448.20" y="305.66" width="37.70" height="15.28" fill="#f58d64"/>
<rect x="485.40" y="305.66" width="37.70" height="15.28" fill="#e13342"/>
<rect x="522.60" y="305.66" width="37.70" height="15.28" fill="#ca1a50"/>
<rect x="559.80" y="305.66" width="37.70" height="15.28" fill="#e23442"/>
<rect x="597.00" y="305.66" width="37.70" height="15.28" fill="#c71951"/>
<rect x="634.20" y="305.66" width="37.70" height="15.28" fill="#9a1b5b"/>
<rect x="671.40" y="305.66" width="37.70" height="15.28" fill="#cf1e4d"/>
<rect x="708.60" y="305.66" width="37.70" height="15.28" fill="#b41658"/>
<rect x="745.80" y="305.66" width="37.70" height="15.28" fill="#b41658"/>
<rect x="783.00" y="305.66" width="37.70" height="15.28" fill="#f6b18b"/>
<rect x="820.20" y="305.66" width="37.70" height="15.28" fill="#faebdd"/>
<rect x="857.40" y="305.66" width="37.70" height="15.28" fill="#f6a880"/>
<rect x="894.60" y="305.66" width="37.70" height="15.28" fill="#c11754"/>
<rect x="931.80" y="305.66" width="37.70" height="15.28" fill="#f59970"/>
<rect x="969.00" y="305.66" width="37.70" height="15.28" fill="#981b5b"/>
<rect x="1006.20" y="305.66" width="37.70" height="15.28" fill="#7b1f59"/>
<rect x="1043.40" y="305.66" width="37.70" height="15.28" fill="#a6195a"/>
<rect x="1080.60" y="305.66" width="37.70" height="15.28" fill="#981b5b"/>
<rect x="1117.80" y="305.66" width="37.70" height="15.28" fill="#921c5b"/>
<rect x="1155.00" y="305.66" width="37.70" height="15.28" fill="#e9423e"/>
<rect x="1192.20" y="305.66" width="37.70" height="15.28" fill="#f4845d"/>
<rect x="1229.40" y="305.66" width="37.70" height="15.28" fill="#e13342"/>
<rect x="1266.60" y="305.66" width="37.70" height="15.28" fill="#9c1b5b"/>
<rect x="1303.80" y="305.66" width="37.70" height="15.28" fill="#e13342"/>
<rect x="225.00" y="320.45" width="37.70" height="15.28" fill="#d3214b"/>
<rect x="262.20" y="320.45" width="37.70" height="15.28" fill="#901d5b"/>
<rect x="299.40" y="320.45" width="37.70" height="15.28" fill="#db2946"/>
<rect x="336.60" y="320.45" width="37.70" height="15.28" fill="#d2204c"/>
<rect x="373.80" y="320.45" width="37.70" height="15.28" fill="#d5224a"/>
<rect x="411.00" y="320.45" width="37.70" height="15.28" fill="#f47d57"/>
<rect x="448.20" y="320.45" width="37.70" height="15.28" fill="#f58b63"/>
<rect x="485.40" y="320.45" width="37.70" height="15.28" fill="#f3734e"/>
<rect x="522.60" y="320.45" width="37.70" height="15.28" fill="#d72549"/>
<rect x="559.80" y="320.45" width="37.70" height="15.28" fill="#ca1a50"/>
<rect x="597.00" y="320.45" width="37.70" height="15.28" fill="#ed4e3e"/>
<rect x="634.20" y="320.45" width="37.70" height="15.28" fill="#a6195a"/>
<rect x="671.40" y="320.45" width="37.70" height="15.28" fill="#f05e42"/>
<rect x="708.60" y="320.45" width="37.70" height="15.28" fill="#dc2b46"/>
<rect x="745.80" y="320.45" width="37.70" height="15.28" fill="#c51852"/>
<rect x="783.00" y="320.45" width="37.70" height="15.28" fill="#f6a077"/>
<rect x="820.20" y="320.45" width="37.70" height="15.28" fill="#f6a880"/>
<rect x="857.40" y="320.45" width="37.70" height="15.28" fill="#faebdd"/>
<rect x="894.60" y="320.45" width="37.70" height="15.28" fill="#c11754"/>
<rect x="931.80" y="320.45" width="37.70" height="15.28" fill="#f3734e"/>
<rect x="969.00" y="320.45" width="37.70" height="15.28" fill="#ce1d4e"/>
<rect x="1006.20" y="320.45" width="37.70" height="15.28" fill="#761f58"/>
<rect x="1043.40" y="320.45" width="37.70" height="15.28" fill="#d72549"/>
<rect x="1080.60" y="320.45" width="37.70" height="15.28" fill="#ca1a50"/>
<rect x="1117.80" y="320.45" width="37.70" height="15.28" fill="#a11a5b"/>
<rect x="1155.00" y="320.45" width="37.70" height="15.28" fill="#e43841"/>
<rect x="1192.20" y="320.45" width="37.70" height="15.28" fill="#f05c42"/>
<rect x="1229.40" y="320.45" width="37.70" height="15.28" fill="#f26f4c"/>
<rect x="1266.60" y="320.45" width="37.70" height="15.28" fill="#891e5b"/>
<rect x="1303.80" y="320.45" width="37.70" height="15.28" fill="#c11754"/>
<rect x="225.00" y="335.23" width="37.70" height="15.28" fill="#3c1a42"/>
<rect x="262.20" y="335.23" width="37.70" height="15.28" fill="#5e1f52"/>
<rect x="299.40" y="335.23" width="37.70" height="15.28" fill="#421b45"/>
<rect x="336.60" y="335.23" width="37.70" height="15.28" fill="#451c47"/>
<rect x="373.80" y="335.23" width="37.70" height="15.28" fill="#9e1a5b"/>
<rect x="411.00" y="335.23" width="37.70" height="15.28" fill="#a6195a"/>
<rect x="448.20" y="335.23" width="37.70" height="15.28" fill="#951c5b"/>
<rect x="485.40" y="335.23" width="37.70" height="15.28" fill="#7a1f59"/>
<rect x="522.60" y="335.23" width="37.70" height="15.28" fill="#e33641"/>
<rect x="559.80" y="335.23" width="37.70" height="15.28" fill="#cb1b4f"/>
<rect x="597.00" y="335.23" width="37.70" height="15.28" fill="#aa185a"/>
<rect x="634.20" y="335.23" width="37.70" height="15.28" fill="#dc2b46"/>
<rect x="671.40" y="335.23" width="37.70" height="15.28" fill="#b21758"/>
<rect x="708.60" y="335.23" width="37.70" height="15.28" fill="#861e5b"/>
<rect x="745.80" y="335.23" width="37.70" height="15.28" fill="#dc2b46"/>
<rect x="783.00" y="335.23" width="37.70" height="15.28" fill="#d72549"/>
<rect x="820.20" y="335.23" width="37.70" height="15.28" fill="#c11754"/>
<rect x="857.40" y="335.23" width="37.70" height="15.28" fill="#c11754"/>
<rect x="894.60" y="335.23" width="37.70" height="15.28" fill="#faebdd"/>
<rect x="931.80" y="335.23" width="37.70" height="15.28" fill="#d11f4c"/>
<rect x="969.00" y="335.23" width="37.70" height="15.28" fill="#34193d"/>
<rect x="1006.20" y="335.23" width="37.70" height="15.28" fill="#431c46"/>
<rect x="1043.40" y="335.23" width="37.70" height="15.28" fill="#3c1a42"/>
<rect x="1080.60" y="335.23" width="37.70" height="15.28" fill="#3a1a41"/>
<rect x="1117.80" y="335.23" width="37.70" height="15.28" fill="#581e4f"/>
<rect x="1155.00" y="335.23" width="37.70" height="15.28" fill="#6e1f57"/>
<rect x="1192.20" y="335.23" width="37.70" height="15.28" fill="#681f55"/>
<rect x="1229.40" y="335.23" width="37.70" height="15.28" fill="#511e4d"/>
<rect x="1266.60" y="335.23" width="37.70" height="15.28" fill="#d62449"/>
<rect x="1303.80" y="335.23" width="37.70" height="15.28" fill="#751f58"/>
<rect x="225.00" y="350.02" width="37.70" height="15.28" fill="#4e1d4b"/>
<rect x="262.20" y="350.02" width="37.70" height="15.28" fill="#6d1f56"/>
<rect x="299.40" y="350.02" width="37.70" height="15.28" fill="#591e50"/>
<rect x="336.60" y="350.02" width="37.70" height="15.28" fill="#541e4e"/>
<rect x="373.80" y="350.02" width="37.70" height="15.28" fill="#b91657"/>
<rect x="411.00" y="350.02" width="37.70" height="15.28" fill="#ec4a3e"/>
<rect x="448.20" y="350.02" width="37.70" height="15.28" fill="#e33641"/>
<rect x="485.40" y="350.02" width="37.70" height="15.28" fill="#b01759"/>
<rect x="522.60" y="350.02" width="37.70" height="15.28" fill="#c71951"/>
<rect x="559.80" y="350.02" width="37.70" height="15.28" fill="#f58d64"/>
<rect x="597.00" y="350.02" width="37.70" height="15.28" fill="#a6195a"/>
<rect x="634.20" y="350.02" width="37.70" height="15.28" fill="#b71657"/>
<rect x="671.40" y="350.02" width="37.70" height="15.28" fill="#ab185a"/>
<rect x="708.60" y="350.02" width="37.70" height="15.28" fill="#841e5a"/>
<rect x="745.80" y="350.02" width="37.70" height="15.28" fill="#df2f44"/>
<rect x="783.00" y="350.02" width="37.70" height="15.28" fill="#f6b18b"/>
<rect x="820.20" y="350.02" width="37.70" height="15.28" fill="#f59970"/>
<rect x="857.40" y="350.02" width="37.70" height="15.28" fill="#f3734e"/>
<rect x="894.60" y="350.02" width="37.70" height="15.28" fill="#d11f4c"/>
<rect x="931.80" y="350.02" width="37.70" height="15.28" fill="#faebdd"/>
<rect x="969.00" y="350.02" width="37.70" height="15.28" fill="#501d4c"/>
<rect x="1006.20" y="350.02" width="37.70" height="15.28" fill="#5b1e51"/>
<rect x="1043.40" y="350.02" width="37.70" height="15.28" fill="#5b1e51"/>
<rect x="1080.60" y="350.02" width="37.70" height="15.28" fill="#541e4e"/>
<rect x="1117.80" y="350.02" width="37.70" height="15.28" fill="#931c5b"/>
<rect x="1155.00" y="350.02" width="37.70" height="15.28" fill="#d62449"/>
<rect x="1192.20" y="350.02" width="37.70" height="15.28" fill="#d3214b"/>
<rect x="1229.40" y="350.02" width="37.70" height="15.28" fill="#a11a5b"/>
<rect x="1266.60" y="350.02" width="37.70" height="15.28" fill="#7f1e5a"/>
<rect x="1303.80" y="350.02" width="37.70" height="15.28" fill="#f26b49"/>
<rect x="225.00" y="364.80" width="37.70" height="15.28" fill="#f9e3d2"/>
<rect x="262.20" y="364.80" width="37.70" height="15.28" fill="#cd1c4e"/>
<rect x="299.40" y="364.80" width="37.70" height="15.28" fill="#f9e3d2"/>
<rect x="336.60" y="364.80" width="37.70" height="15.28" fill="#f9e0cd"/>
<rect x="373.80" y="364.80" width="37.70" height="15.28" fill="#a11a5b"/>
<rect x="411.00" y="364.80" width="37.70" height="15.28" fill="#ef5640"/>
<rect x="448.20" y="364.80" width="37.70" height="15.28" fill="#f58d64"/>
<rect x="485.40" y="364.80" width="37.70" height="15.28" fill="#f6b995"/>
<rect x="522.60" y="364.80" width="37.70" height="15.28" fill="#981b5b"/>
<rect x="559.80" y="364.80" width="37.70" height="15.28" fill="#110c24"/>
<rect x="597.00" y="364.80" width="37.70" height="15.28" fill="#f5966c"/>
<rect x="634.20" y="364.80" width="37.70" height="15.28" fill="#3a1a41"/>
<rect x="671.40" y="364.80" width="37.70" height="15.28" fill="#f58f66"/>
<rect x="708.60" y="364.80" width="37.70" height="15.28" fill="#f6a37a"/>
<rect x="745.80" y="364.80" width="37.70" height="15.28" fill="#170f28"/>
<rect x="783.00" y="364.80" width="37.70" height="15.28" fill="#9e1a5b"/>
<rect x="820.20" y="364.80" width="37.70" height="15.28" fill="#981b5b"/>
<rect x="857.40" y="364.80" width="37.70" height="15.28" fill="#ce1d4e"/>
<rect x="894.60" y="364.80" width="37.70" height="15.28" fill="#34193d"/>
<rect x="931.80" y="364.80" width="37.70" height="15.28" fill="#501d4c"/>
<rect x="969.00" y="364.80" width="37.70" height="15.28" fill="#faebdd"/>
<rect x="1006.20" y="364.80" width="37.70" height="15.28" fill="#cf1e4d"/>
<rect x="1043.40" y="364.80" width="37.70" height="15.28" fill="#fae9da"/>
<rect x="1080.60" y="364.80" width="37.70" height="15.28" fill="#fae6d6"/>
<rect x="1117.80" y="364.80" width="37.70" height="15.28" fill="#a3195b"/>
<rect x="1155.00" y="364.80" width="37.70" height="15.28" fill="#e83f3f"/>
<rect x="1192.20" y="364.80" width="37.70" height="15.28" fill="#f16445"/>
<rect x="1229.40" y="364.80" width="37.70" height="15.28" fill="#f6ad85"/>
<rect x="1266.60" y="364.80" width="37.70" height="15.28" fill="#ab185a"/>
<rect x="1303.80" y="364.80" width="37.70" height="15.28" fill="#7a1f59"/>
<rect x="225.00" y="379.58" width="37.70" height="15.28" fill="#bc1656"/>
<rect x="262.20" y="379.58" width="37.70" height="15.28" fill="#f8d1b8"/>
<rect x="299.40" y="379.58" width="37.70" height="15.28" fill="#bd1655"/>
<rect x="336.60" y="379.58" width="37.70" height="15.28" fill="#b91657"/>
<rect x="373.80" y="379.58" width="37.70" height="15.28" fill="#661f54"/>
<rect x="411.00" y="379.58" width="37.70" height="15.28" fill="#ad1759"/>
<rect x="448.20" y="379.58" width="37.70" height="15.28" fill="#bd1655"/>
<rect x="485.40" y="379.58" width="37.70" height="15.28" fill="#ba1656"/>
<rect x="522.60" y="379.58" width="37.70" height="15.28" fill="#781f59"/>
<rect x="559.80" y="379.58" width="37.70" height="15.28" fill="#4b1d4a"/>
<rect x="597.00" y="379.58" width="37.70" height="15.28" fill="#9a1b5b"/>
<rect x="634.20" y="379.58" width="37.70" height="15.28" fill="#db2946"/>
<rect x="671.40" y="379.58" width="37.70" height="15.28" fill="#9c1b5b"/>
<rect x="708.60" y="379.58" width="37.70" height="15.28" fill="#9c1b5b"/>
<rect x="745.80" y="379.58" width="37.70" height="15.28" fill="#451c47"/>
<rect x="783.00" y="379.58" width="37.70" height="15.28" fill="#891e5b"/>
<rect x="820.20" y="379.58" width="37.70" height="15.28" fill="#7b1f59"/>
<rect x="857.40" y="379.58" width="37.70" height="15.28" fill="#761f58"/>
<rect x="894.60" y="379.58" width="37.70" height="15.28" fill="#431c46"/>
<rect x="931.80" y="379.58" width="37.70" height="15.28" fill="#5b1e51"/>
<rect x="969.00" y="379.58" width="37.70" height="15.28" fill="#cf1e4d"/>
<rect x="1006.20" y="379.58" width="37.70" height="15.28" fill="#faebdd"/>
<rect x="1043.40" y="379.58" width="37.70" height="15.28" fill="#d11f4c"/>
<rect x="1080.60" y="379.58" width="37.70" height="15.28" fill="#cb1b4f"/>
<rect x="1117.80" y="379.58" width="37.70" height="15.28" fill="#a4195b"/>
<rect x="1155.00" y="379.58" width="37.70" height="15.28" fill="#cf1e4d"/>
<rect x="1192.20" y="379.58" width="37.70" height="15.28" fill="#d11f4c"/>
<rect x="1229.40" y="379.58" width="37.70" height="15.28" fill="#cf1e4d"/>
<rect x="1266.60" y="379.58" width="37.70" height="15.28" fill="#a8185a"/>
<rect x="1303.80" y="379.58" width="37.70" height="15.28" fill="#a3195b"/>
<rect x="225.00" y="394.37" width="37.70" height="15.28" fill="#f9e2d0"/>
<rect x="262.20" y="394.37" width="37.70" height="15.28" fill="#ce1d4e"/>
<rect x="299.40" y="394.37" width="37.70" height="15.28" fill="#f9e3d2"/>
<rect x="336.60" y="394.37" width="37.70" height="15.28" fill="#f9e0cd"/>
<rect x="373.80" y="394.37" width="37.70" height="15.28" fill="#aa185a"/>
<rect x="411.00" y="394.37" width="37.70" height="15.28" fill="#f26b49"/>
<rect x="448.20" y="394.37" width="37.70" height="15.28" fill="#f69b71"/>
<rect x="485.40" y="394.37" width="37.70" height="15.28" fill="#f6c19f"/>
<rect x="522.60" y="394.37" width="37.70" height="15.28" fill="#a3195b"/>
<rect x="559.80" y="394.37" width="37.70" height="15.28" fill="#1e122d"/>
<rect x="597.00" y="394.37" width="37.70" height="15.28" fill="#f5976e"/>
<rect x="634.20" y="394.37" width="37.70" height="15.28" fill="#3c1a42"/>
<rect x="671.40" y="394.37" width="37.70" height="15.28" fill="#f5976e"/>
<rect x="708.60" y="394.37" width="37.70" height="15.28" fill="#f6a47c"/>
<rect x="745.80" y="394.37" width="37.70" height="15.28" fill="#1b112b"/>
<rect x="783.00" y="394.37" width="37.70" height="15.28" fill="#b01759"/>
<rect x="820.20" y="394.37" width="37.70" height="15.28" fill="#a6195a"/>
<rect x="857.40" y="394.37" width="37.70" height="15.28" fill="#d72549"/>
<rect x="894.60" y="394.37" width="37.70" height="15.28" fill="#3c1a42"/>
<rect x="931.80" y="394.37" width="37.70" height="15.28" fill="#5b1e51"/>
<rect x="969.00" y="394.37" width="37.70" height="15.28" fill="#fae9da"/>
<rect x="1006.20" y="394.37" width="37.70" height="15.28" fill="#d11f4c"/>
<rect x="1043.40" y="394.37" width="37.70" height="15.28" fill="#faebdd"/>
<rect x="1080.60" y="394.37" width="37.70" height="15.28" fill="#f9e5d4"/>
<rect x="1117.80" y="394.37" width="37.70" height="15.28" fill="#aa185a"/>
<rect x="1155.00" y="394.37" width="37.70" height="15.28" fill="#ee543f"/>
<rect x="1192.20" y="394.37" width="37.70" height="15.28" fill="#f37450"/>
<rect x="1229.40" y="394.37" width="37.70" height="15.28" fill="#f6b691"/>
<rect x="1266.60" y="394.37" width="37.70" height="15.28" fill="#b41658"/>
<rect x="1303.80" y="394.37" width="37.70" height="15.28" fill="#871e5b"/>
<rect x="225.00" y="409.15" width="37.70" height="15.28" fill="#f8dac5"/>
<rect x="262.20" y="409.15" width="37.70" height="15.28" fill="#ca1a50"/>
<rect x="299.40" y="409.15" width="37.70" height="15.28" fill="#f8dac5"/>
<rect x="336.60" y="409.15" width="37.70" height="15.28" fill="#f9e0cd"/>
<rect x="373.80" y="409.15" width="37.70" height="15.28" fill="#9f1a5b"/>
<rect x="411.00" y="409.15" width="37.70" height="15.28" fill="#ec4c3e"/>
<rect x="448.20" y="409.15" width="37.70" height="15.28" fill="#f58860"/>
<rect x="485.40" y="409.15" width="37.70" height="15.28" fill="#f6b38d"/>
<rect x="522.60" y="409.15" width="37.70" height="15.28" fill="#951c5b"/>
<rect x="559.80" y="409.15" width="37.70" height="15.28" fill="#170f28"/>
<rect x="597.00" y="409.15" width="37.70" height="15.28" fill="#f6a178"/>
<rect x="634.20" y="409.15" width="37.70" height="15.28" fill="#421b45"/>
<rect x="671.40" y="409.15" width="37.70" height="15.28" fill="#f69b71"/>
<rect x="708.60" y="409.15" width="37.70" height="15.28" fill="#f6b48f"/>
<rect x="745.80" y="409.15" width="37.70" height="15.28" fill="#251433"/>
<rect x="783.00" y="409.15" width="37.70" height="15.28" fill="#9c1b5b"/>
<rect x="820.20" y="409.15" width="37.70" height="15.28" fill="#981b5b"/>
<rect x="857.40" y="409.15" width="37.70" height="15.28" fill="#ca1a50"/>
<rect x="894.60" y="409.15" width="37.70" height="15.28" fill="#3a1a41"/>
<rect x="931.80" y="409.15" width="37.70" height="15.28" fill="#541e4e"/>
<rect x="969.00" y="409.15" width="37.70" height="15.28" fill="#fae6d6"/>
<rect x="1006.20" y="409.15" width="37.70" height="15.28" fill="#cb1b4f"/>
<rect x="1043.40" y="409.15" width="37.70" height="15.28" fill="#f9e5d4"/>
<rect x="1080.60" y="409.15" width="37.70" height="15.28" fill="#faebdd"/>
<rect x="1117.80" y="409.15" width="37.70" height="15.28" fill="#9f1a5b"/>
<rect x="1155.00" y="409.15" width="37.70" height="15.28" fill="#e13342"/>
<rect x="1192.20" y="409.15" width="37.70" height="15.28" fill="#ef5840"/>
<rect x="1229.40" y="409.15" width="37.70" height="15.28" fill="#f6a077"/>
<rect x="1266.60" y="409.15" width="37.70" height="15.28" fill="#9f1a5b"/>
<rect x="1303.80" y="409.15" width="37.70" height="15.28" fill="#751f58"/>
<rect x="225.00" y="423.94" width="37.70" height="15.28" fill="#821e5a"/>
<rect x="262.20" y="423.94" width="37.70" height="15.28" fill="#731f58"/>
<rect x="299.40" y="423.94" width="37.70" height="15.28" fill="#8c1d5b"/>
<rect x="336.60" y="423.94" width="37.70" height="15.28" fill="#821e5a"/>
<rect x="373.80" y="423.94" width="37.70" height="15.28" fill="#f6b38d"/>
<rect x="411.00" y="423.94" width="37.70" height="15.28" fill="#f16244"/>
<rect x="448.20" y="423.94" width="37.70" height="15.28" fill="#e33641"/>
<rect x="485.40" y="423.94" width="37.70" height="15.28" fill="#e43841"/>
<rect x="522.60" y="423.94" width="37.70" height="15.28" fill="#df2f44"/>
<rect x="559.80" y="423.94" width="37.70" height="15.28" fill="#ec4a3e"/>
<rect x="597.00" y="423.94" width="37.70" height="15.28" fill="#891e5b"/>
<rect x="634.20" y="423.94" width="37.70" height="15.28" fill="#451c47"/>
<rect x="671.40" y="423.94" width="37.70" height="15.28" fill="#861e5b"/>
<rect x="708.60" y="423.94" width="37.70" height="15.28" fill="#841e5a"/>
<rect x="745.80" y="423.94" width="37.70" height="15.28" fill="#c21753"/>
<rect x="783.00" y="423.94" width="37.70" height="15.28" fill="#a6195a"/>
<rect x="820.20" y="423.94" width="37.70" height="15.28" fill="#921c5b"/>
<rect x="857.40" y="423.94" width="37.70" height="15.28" fill="#a11a5b"/>
<rect x="894.60" y="423.94" width="37.70" height="15.28" fill="#581e4f"/>
<rect x="931.80" y="423.94" width="37.70" height="15.28" fill="#931c5b"/>
<rect x="969.00" y="423.94" width="37.70" height="15.28" fill="#a3195b"/>
<rect x="1006.20" y="423.94" width="37.70" height="15.28" fill="#a4195b"/>
<rect x="1043.40" y="423.94" width="37.70" height="15.28" fill="#aa185a"/>
<rect x="1080.60" y="423.94" width="37.70" height="15.28" fill="#9f1a5b"/>
<rect x="1117.80" y="423.94" width="37.70" height="15.28" fill="#faebdd"/>
<rect x="1155.00" y="423.94" width="37.70" height="15.28" fill="#f16244"/>
<rect x="1192.20" y="423.94" width="37.70" height="15.28" fill="#ed503e"/>
<rect x="1229.40" y="423.94" width="37.70" height="15.28" fill="#ef5a41"/>
<rect x="1266.60" y="423.94" width="37.70" height="15.28" fill="#eb463e"/>
<rect x="1303.80" y="423.94" width="37.70" height="15.28" fill="#f37450"/>
<rect x="225.00" y="438.72" width="37.70" height="15.28" fill="#dc2b46"/>
<rect x="262.20" y="438.72" width="37.70" height="15.28" fill="#b71657"/>
<rect x="299.40" y="438.72" width="37.70" height="15.28" fill="#e43841"/>
<rect x="336.60" y="438.72" width="37.70" height="15.28" fill="#d72549"/>
<rect x="373.80" y="438.72" width="37.70" height="15.28" fill="#e83f3f"/>
<rect x="411.00" y="438.72" width="37.70" height="15.28" fill="#f7c4a4"/>
<rect x="448.20" y="438.72" width="37.70" height="15.28" fill="#f6a37a"/>
<rect x="485.40" y="438.72" width="37.70" height="15.28" fill="#f4865e"/>
<rect x="522.60" y="438.72" width="37.70" height="15.28" fill="#e83f3f"/>
<rect x="559.80" y="438.72" width="37.70" height="15.28" fill="#e53940"/>
<rect x="597.00" y="438.72" width="37.70" height="15.28" fill="#b91657"/>
<rect x="634.20" y="438.72" width="37.70" height="15.28" fill="#3f1b43"/>
<rect x="671.40" y="438.72" width="37.70" height="15.28" fill="#ca1a50"/>
<rect x="708.60" y="438.72" width="37.70" height="15.28" fill="#b91657"/>
<rect x="745.80" y="438.72" width="37.70" height="15.28" fill="#491d49"/>
<rect x="783.00" y="438.72" width="37.70" height="15.28" fill="#f58a61"/>
<rect x="820.20" y="438.72" width="37.70" height="15.28" fill="#e9423e"/>
<rect x="857.40" y="438.72" width="37.70" height="15.28" fill="#e43841"/>
<rect x="894.60" y="438.72" width="37.70" height="15.28" fill="#6e1f57"/>
<rect x="931.80" y="438.72" width="37.70" height="15.28" fill="#d62449"/>
<rect x="969.00" y="438.72" width="37.70" height="15.28" fill="#e83f3f"/>
<rect x="1006.20" y="438.72" width="37.70" height="15.28" fill="#cf1e4d"/>
<rect x="1043.40" y="438.72" width="37.70" height="15.28" fill="#ee543f"/>
<rect x="1080.60" y="438.72" width="37.70" height="15.28" fill="#e13342"/>
<rect x="1117.80" y="438.72" width="37.70" height="15.28" fill="#f16244"/>
<rect x="1155.00" y="438.72" width="37.70" height="15.28" fill="#faebdd"/>
<rect x="1192.20" y="438.72" width="37.70" height="15.28" fill="#f7ccaf"/>
<rect x="1229.40" y="438.72" width="37.70" height="15.28" fill="#f6b18b"/>
<rect x="1266.60" y="438.72" width="37.70" height="15.28" fill="#f3734e"/>
<rect x="1303.80" y="438.72" width="37.70" height="15.28" fill="#f6b48f"/>
<rect x="225.00" y="453.50" width="37.70" height="15.28" fill="#ee523f"/>
<rect x="262.20" y="453.50" width="37.70" height="15.28" fill="#bd1655"/>
<rect x="299.40" y="453.50" width="37.70" height="15.28" fill="#f06043"/>
<rect x="336.60" y="453.50" width="37.70" height="15.28" fill="#ec4c3e"/>
<rect x="373.80" y="453.50" width="37.70" height="15.28" fill="#e03143"/>
<rect x="411.00" y="453.50" width="37.70" height="15.28" fill="#f6b691"/>
<rect x="448.20" y="453.50" width="37.70" height="15.28" fill="#f7caac"/>
<rect x="485.40" y="453.50" width="37.70" height="15.28" fill="#f6a178"/>
<rect x="522.60" y="453.50" width="37.70" height="15.28" fill="#e03143"/>
<rect x="559.80" y="453.50" width="37.70" height="15.28" fill="#cb1b4f"/>
<rect x="597.00" y="453.50" width="37.70" height="15.28" fill="#d5224a"/>
<rect x="634.20" y="453.50" width="37.70" height="15.28" fill="#461c48"/>
<rect x="671.40" y="453.50" width="37.70" height="15.28" fill="#dd2c45"/>
<rect x="708.60" y="453.50" width="37.70" height="15.28" fill="#d5224a"/>
<rect x="745.80" y="453.50" width="37.70" height="15.28" fill="#491d49"/>
<rect x="783.00" y="453.50" width="37.70" height="15.28" fill="#f47c55"/>
<rect x="820.20" y="453.50" width="37.70" height="15.28" fill="#f4845d"/>
<rect x="857.40" y="453.50" width="37.70" height="15.28" fill="#f05c42"/>
<rect x="894.60" y="453.50" width="37.70" height="15.28" fill="#681f55"/>
<rect x="931.80" y="453.50" width="37.70" height="15.28" fill="#d3214b"/>
<rect x="969.00" y="453.50" width="37.70" height="15.28" fill="#f16445"/>
<rect x="1006.20" y="453.50" width="37.70" height="15.28" fill="#d11f4c"/>
<rect x="1043.40" y="453.50" width="37.70" height="15.28" fill="#f37450"/>
<rect x="1080.60" y="453.50" width="37.70" height="15.28" fill="#ef5840"/>
<rect x="1117.80" y="453.50" width="37.70" height="15.28" fill="#ed503e"/>
<rect x="1155.00" y="453.50" width="37.70" height="15.28" fill="#f7ccaf"/>
<rect x="1192.20" y="453.50" width="37.70" height="15.28" fill="#faebdd"/>
<rect x="1229.40" y="453.50" width="37.70" height="15.28" fill="#f6c19f"/>
<rect x="1266.60" y="453.50" width="37.70" height="15.28" fill="#ee543f"/>
<rect x="1303.80" y="453.50" width="37.70" height="15.28" fill="#f58b63"/>
<rect x="225.00" y="468.29" width="37.70" height="15.28" fill="#f6a077"/>
<rect x="262.20" y="468.29" width="37.70" height="15.28" fill="#bc1656"/>
<rect x="299.40" y="468.29" width="37.70" height="15.28" fill="#f6a880"/>
<rect x="336.60" y="468.29" width="37.70" height="15.28" fill="#f5976e"/>
<rect x="373.80" y="468.29" width="37.70" height="15.28" fill="#ec4a3e"/>
<rect x="411.00" y="468.29" width="37.70" height="15.28" fill="#f6b691"/>
<rect x="448.20" y="468.29" width="37.70" height="15.28" fill="#f7c2a2"/>
<rect x="485.40" y="468.29" width="37.70" height="15.28" fill="#f8d1b8"/>
<rect x="522.60" y="468.29" width="37.70" height="15.28" fill="#df2f44"/>
<rect x="559.80" y="468.29" width="37.70" height="15.28" fill="#951c5b"/>
<rect x="597.00" y="468.29" width="37.70" height="15.28" fill="#ee543f"/>
<rect x="634.20" y="468.29" width="37.70" height="15.28" fill="#37193f"/>
<rect x="671.40" y="468.29" width="37.70" height="15.28" fill="#f05e42"/>
<rect x="708.60" y="468.29" width="37.70" height="15.28" fill="#ef5640"/>
<rect x="745.80" y="468.29" width="37.70" height="15.28" fill="#3c1a42"/>
<rect x="783.00" y="468.29" width="37.70" height="15.28" fill="#e9423e"/>
<rect x="820.20" y="468.29" width="37.70" height="15.28" fill="#e13342"/>
<rect x="857.40" y="468.29" width="37.70" height="15.28" fill="#f26f4c"/>
<rect x="894.60" y="468.29" width="37.70" height="15.28" fill="#511e4d"/>
<rect x="931.80" y="468.29" width="37.70" height="15.28" fill="#a11a5b"/>
<rect x="969.00" y="468.29" width="37.70" height="15.28" fill="#f6ad85"/>
<rect x="1006.20" y="468.29" width="37.70" height="15.28" fill="#cf1e4d"/>
<rect x="1043.40" y="468.29" width="37.70" height="15.28" fill="#f6b691"/>
<rect x="1080.60" y="468.29" width="37.70" height="15.28" fill="#f6a077"/>
<rect x="1117.80" y="468.29" width="37.70" height="15.28" fill="#ef5a41"/>
<rect x="1155.00" y="468.29" width="37.70" height="15.28" fill="#f6b18b"/>
<rect x="1192.20" y="468.29" width="37.70" height="15.28" fill="#f6c19f"/>
<rect x="1229.40" y="468.29" width="37.70" height="15.28" fill="#faebdd"/>
<rect x="1266.60" y="468.29" width="37.70" height="15.28" fill="#eb483e"/>
<rect x="1303.80" y="468.29" width="37.70" height="15.28" fill="#ec4c3e"/>
<rect x="225.00" y="483.07" width="37.70" height="15.28" fill="#901d5b"/>
<rect x="262.20" y="483.07" width="37.70" height="15.28" fill="#7d1f5a"/>
<rect x="299.40" y="483.07" width="37.70" height="15.28" fill="#981b5b"/>
<rect x="336.60" y="483.07" width="37.70" height="15.28" fill="#891e5b"/>
<rect x="373.80" y="483.07" width="37.70" height="15.28" fill="#d72549"/>
<rect x="411.00" y="483.07" width="37.70" height="15.28" fill="#ec4c3e"/>
<rect x="448.20" y="483.07" width="37.70" height="15.28" fill="#db2946"/>
<rect x="485.40" y="483.07" width="37.70" height="15.28" fill="#d3214b"/>
<rect x="522.60" y="483.07" width="37.70" height="15.28" fill="#f59067"/>
<rect x="559.80" y="483.07" width="37.70" height="15.28" fill="#c81951"/>
<rect x="597.00" y="483.07" width="37.70" height="15.28" fill="#7a1f59"/>
<rect x="634.20" y="483.07" width="37.70" height="15.28" fill="#34193d"/>
<rect x="671.40" y="483.07" width="37.70" height="15.28" fill="#7f1e5a"/>
<rect x="708.60" y="483.07" width="37.70" height="15.28" fill="#731f58"/>
<rect x="745.80" y="483.07" width="37.70" height="15.28" fill="#3a1a41"/>
<rect x="783.00" y="483.07" width="37.70" height="15.28" fill="#b71657"/>
<rect x="820.20" y="483.07" width="37.70" height="15.28" fill="#9c1b5b"/>
<rect x="857.40" y="483.07" width="37.70" height="15.28" fill="#891e5b"/>
<rect x="894.60" y="483.07" width="37.70" height="15.28" fill="#d62449"/>
<rect x="931.80" y="483.07" width="37.70" height="15.28" fill="#7f1e5a"/>
<rect x="969.00" y="483.07" width="37.70" height="15.28" fill="#ab185a"/>
<rect x="1006.20" y="483.07" width="37.70" height="15.28" fill="#a8185a"/>
<rect x="1043.40" y="483.07" width="37.70" height="15.28" fill="#b41658"/>
<rect x="1080.60" y="483.07" width="37.70" height="15.28" fill="#9f1a5b"/>
<rect x="1117.80" y="483.07" width="37.70" height="15.28" fill="#eb463e"/>
<rect x="1155.00" y="483.07" width="37.70" height="15.28" fill="#f3734e"/>
<rect x="1192.20" y="483.07" width="37.70" height="15.28" fill="#ee543f"/>
<rect x="1229.40" y="483.07" width="37.70" height="15.28" fill="#eb483e"/>
<rect x="1266.60" y="483.07" width="37.70" height="15.28" fill="#faebdd"/>
<rect x="1303.80" y="483.07" width="37.70" height="15.28" fill="#ef5640"/>
<rect x="225.00" y="497.86" width="37.70" height="15.28" fill="#5e1f52"/>
<rect x="262.20" y="497.86" width="37.70" height="15.28" fill="#821e5a"/>
<rect x="299.40" y="497.86" width="37.70" height="15.28" fill="#6b1f56"/>
<rect x="336.60" y="497.86" width="37.70" height="15.28" fill="#5c1e51"/>
<rect x="373.80" y="497.86" width="37.70" height="15.28" fill="#eb483e"/>
<rect x="411.00" y="497.86" width="37.70" height="15.28" fill="#f58b63"/>
<rect x="448.20" y="497.86" width="37.70" height="15.28" fill="#ed4e3e"/>
<rect x="485.40" y="497.86" width="37.70" height="15.28" fill="#d11f4c"/>
<rect x="522.60" y="497.86" width="37.70" height="15.28" fill="#e13342"/>
<rect x="559.80" y="497.86" width="37.70" height="15.28" fill="#f6a67e"/>
<rect x="597.00" y="497.86" width="37.70" height="15.28" fill="#6b1f56"/>
<rect x="634.20" y="497.86" width="37.70" height="15.28" fill="#4c1d4b"/>
<rect x="671.40" y="497.86" width="37.70" height="15.28" fill="#761f58"/>
<rect x="708.60" y="497.86" width="37.70" height="15.28" fill="#611f53"/>
<rect x="745.80" y="497.86" width="37.70" height="15.28" fill="#7b1f59"/>
<rect x="783.00" y="497.86" width="37.70" height="15.28" fill="#f26b49"/>
<rect x="820.20" y="497.86" width="37.70" height="15.28" fill="#e13342"/>
<rect x="857.40" y="497.86" width="37.70" height="15.28" fill="#c11754"/>
<rect x="894.60" y="497.86" width="37.70" height="15.28" fill="#751f58"/>
<rect x="931.80" y="497.86" width="37.70" height="15.28" fill="#f26b49"/>
<rect x="969.00" y="497.86" width="37.70" height="15.28" fill="#7a1f59"/>
<rect x="1006.20" y="497.86" width="37.70" height="15.28" fill="#a3195b"/>
<rect x="1043.40" y="497.86" width="37.70" height="15.28" fill="#871e5b"/>
<rect x="1080.60" y="497.86" width="37.70" height="15.28" fill="#751f58"/>
<rect x="1117.80" y="497.86" width="37.70" height="15.28" fill="#f37450"/>
<rect x="1155.00" y="497.86" width="37.70" height="15.28" fill="#f6b48f"/>
<rect x="1192.20" y="497.86" width="37.70" height="15.28" fill="#f58b63"/>
<rect x="1229.40" y="497.86" width="37.70" height="15.28" fill="#ec4c3e"/>
<rect x="1266.60" y="497.86" width="37.70" height="15.28" fill="#ef5640"/>
<rect x="1303.80" y="497.86" width="37.70" height="15.28" fill="#faebdd"/>
</g>
<g filter="url(#bl)">
<g font-size="10.0" text-anchor="middle" stroke-width="0.12">
<text x="243.60" y="79.96" fill="#262626" stroke="#262626">1</text>
<text x="280.80" y="79.96" fill="#fff" stroke="#fff">0.32</text>
<text x="318.00" y="79.96" fill="#262626" stroke="#262626">1</text>
<text x="355.20" y="79.96" fill="#262626" stroke="#262626">0.99</text>
<text x="392.40" y="79.96" fill="#fff" stroke="#fff">0.17</text>
<text x="429.60" y="79.96" fill="#fff" stroke="#fff">0.51</text>
<text x="466.80" y="79.96" fill="#fff" stroke="#fff">0.68</text>
<text x="504.00" y="79.96" fill="#262626" stroke="#262626">0.82</text>
<text x="541.20" y="79.96" fill="#fff" stroke="#fff">0.15</text>
<text x="578.40" y="79.96" fill="#fff" stroke="#fff">-0.31</text>
<text x="615.60" y="79.96" fill="#fff" stroke="#fff">0.68</text>
<text x="652.80" y="79.96" fill="#fff" stroke="#fff">-0.097</text>
<text x="690.00" y="79.96" fill="#fff" stroke="#fff">0.67</text>
<text x="727.20" y="79.96" fill="#262626" stroke="#262626">0.74</text>
<text x="764.40" y="79.96" fill="#fff" stroke="#fff">-0.22</text>
<text x="801.60" y="79.96" fill="#fff" stroke="#fff">0.21</text>
<text x="838.80" y="79.96" fill="#fff" stroke="#fff">0.19</text>
<text x="876.00" y="79.96" fill="#fff" stroke="#fff">0.38</text>
<text x="913.20" y="79.96" fill="#fff" stroke="#fff">-0.1</text>
<text x="950.40" y="79.96" fill="#fff" stroke="#fff">-0.043</text>
<text x="987.60" y="79.96" fill="#262626" stroke="#262626">0.97</text>
<text x="1024.80" y="79.96" fill="#fff" stroke="#fff">0.3</text>
<text x="1062.00" y="79.96" fill="#262626" stroke="#262626">0.97</text>
<text x="1099.20" y="79.96" fill="#262626" stroke="#262626">0.94</text>
<text x="1136.40" y="79.96" fill="#fff" stroke="#fff">0.12</text>
<text x="1173.60" y="79.96" fill="#fff" stroke="#fff">0.41</text>
<text x="1210.80" y="79.96" fill="#fff" stroke="#fff">0.53</text>
<text x="1248.00" y="79.96" fill="#262626" stroke="#262626">0.74</text>
<text x="1285.20" y="79.96" fill="#fff" stroke="#fff">0.16</text>
<text x="1322.40" y="79.96" fill="#fff" stroke="#fff">0.0071</text>
<text x="243.60" y="94.75" fill="#fff" stroke="#fff">0.32</text>
<text x="280.80" y="94.75" fill="#262626" stroke="#262626">1</text>
<text x="318.00" y="94.75" fill="#fff" stroke="#fff">0.33</text>
<text x="355.20" y="94.75" fill="#fff" stroke="#fff">0.32</text>
<text x="392.40" y="94.75" fill="#fff" stroke="#fff">-0.023</text>
<text x="429.60" y="94.75" fill="#fff" stroke="#fff">0.24</text>
<text x="466.80" y="94.75" fill="#fff" stroke="#fff">0.3</text>
<text x="504.00" y="94.75" fill="#fff" stroke="#fff">0.29</text>
<text x="541.20" y="94.75" fill="#fff" stroke="#fff">0.071</text>
<text x="578.40" y="94.75" fill="#fff" stroke="#fff">-0.076</text>
<text x="615.60" y="94.75" fill="#fff" stroke="#fff">0.28</text>
<text x="652.80" y="94.75" fill="#fff" stroke="#fff">0.39</text>
<text x="690.00" y="94.75" fill="#fff" stroke="#fff">0.28</text>
<text x="727.20" y="94.75" fill="#fff" stroke="#fff">0.26</text>
<text x="764.40" y="94.75" fill="#fff" stroke="#fff">0.0066</text>
<text x="801.60" y="94.75" fill="#fff" stroke="#fff">0.19</text>
<text x="838.80" y="94.75" fill="#fff" stroke="#fff">0.14</text>
<text x="876.00" y="94.75" fill="#fff" stroke="#fff">0.16</text>
<text x="913.20" y="94.75" fill="#fff" stroke="#fff">0.0091</text>
<text x="950.40" y="94.75" fill="#fff" stroke="#fff">0.054</text>
<text x="987.60" y="94.75" fill="#fff" stroke="#fff">0.35</text>
<text x="1024.80" y="94.75" fill="#262626" stroke="#262626">0.91</text>
<text x="1062.00" y="94.75" fill="#fff" stroke="#fff">0.36</text>
<text x="1099.20" y="94.75" fill="#fff" stroke="#fff">0.34</text>
<text x="1136.40" y="94.75" fill="#fff" stroke="#fff">0.078</text>
<text x="1173.60" y="94.75" fill="#fff" stroke="#fff">0.28</text>
<text x="1210.80" y="94.75" fill="#fff" stroke="#fff">0.3</text>
<text x="1248.00" y="94.75" fill="#fff" stroke="#fff">0.3</text>
<text x="1285.20" y="94.75" fill="#fff" stroke="#fff">0.11</text>
<text x="1322.40" y="94.75" fill="#fff" stroke="#fff">0.12</text>
<text x="243.60" y="109.53" fill="#262626" stroke="#262626">1</text>
<text x="280.80" y="109.53" fill="#fff" stroke="#fff">0.33</text>
<text x="318.00" y="109.53" fill="#262626" stroke="#262626">1</text>
<text x="355.20" y="109.53" fill="#262626" stroke="#262626">0.99</text>
<text x="392.40" y="109.53" fill="#fff" stroke="#fff">0.21</text>
<text x="429.60" y="109.53" fill="#fff" stroke="#fff">0.56</text>
<text x="466.80" y="109.53" fill="#262626" stroke="#262626">0.72</text>
<text x="504.00" y="109.53" fill="#262626" stroke="#262626">0.85</text>
<text x="541.20" y="109.53" fill="#fff" stroke="#fff">0.18</text>
<text x="578.40" y="109.53" fill="#fff" stroke="#fff">-0.26</text>
<text x="615.60" y="109.53" fill="#fff" stroke="#fff">0.69</text>
<text x="652.80" y="109.53" fill="#fff" stroke="#fff">-0.087</text>
<text x="690.00" y="109.53" fill="#fff" stroke="#fff">0.69</text>
<text x="727.20" y="109.53" fill="#262626" stroke="#262626">0.74</text>
<text x="764.40" y="109.53" fill="#fff" stroke="#fff">-0.2</text>
<text x="801.60" y="109.53" fill="#fff" stroke="#fff">0.25</text>
<text x="838.80" y="109.53" fill="#fff" stroke="#fff">0.23</text>
<text x="876.00" y="109.53" fill="#fff" stroke="#fff">0.41</text>
<text x="913.20" y="109.53" fill="#fff" stroke="#fff">-0.082</text>
<text x="950.40" y="109.53" fill="#fff" stroke="#fff">-0.0055</text>
<text x="987.60" y="109.53" fill="#262626" stroke="#262626">0.97</text>
<text x="1024.80" y="109.53" fill="#fff" stroke="#fff">0.3</text>
<text x="1062.00" y="109.53" fill="#262626" stroke="#262626">0.97</text>
<text x="1099.20" y="109.53" fill="#262626" stroke="#262626">0.94</text>
<text x="1136.40" y="109.53" fill="#fff" stroke="#fff">0.15</text>
<text x="1173.60" y="109.53" fill="#fff" stroke="#fff">0.46</text>
<text x="1210.80" y="109.53" fill="#fff" stroke="#fff">0.56</text>
<text x="1248.00" y="109.53" fill="#262626" stroke="#262626">0.77</text>
<text x="1285.20" y="109.53" fill="#fff" stroke="#fff">0.19</text>
<text x="1322.40" y="109.53" fill="#fff" stroke="#fff">0.051</text>
<text x="243.60" y="124.31" fill="#262626" stroke="#262626">0.99</text>
<text x="280.80" y="124.31" fill="#fff" stroke="#fff">0.32</text>
<text x="318.00" y="124.31" fill="#262626" stroke="#262626">0.99</text>
<text x="355.20" y="124.31" fill="#262626" stroke="#262626">1</text>
<text x="392.40" y="124.31" fill="#fff" stroke="#fff">0.18</text>
<text x="429.60" y="124.31" fill="#fff" stroke="#fff">0.5</text>
<text x="466.80" y="124.31" fill="#fff" stroke="#fff">0.69</text>
<text x="504.00" y="124.31" fill="#262626" stroke="#262626">0.82</text>
<text x="541.20" y="124.31" fill="#fff" stroke="#fff">0.15</text>
<text x="578.40" y="124.31" fill="#fff" stroke="#fff">-0.28</text>
<text x="615.60" y="124.31" fill="#262626" stroke="#262626">0.73</text>
<text x="652.80" y="124.31" fill="#fff" stroke="#fff">-0.066</text>
<text x="690.00" y="124.31" fill="#262626" stroke="#262626">0.73</text>
<text x="727.20" y="124.31" fill="#262626" stroke="#262626">0.8</text>
<text x="764.40" y="124.31" fill="#fff" stroke="#fff">-0.17</text>
<text x="801.60" y="124.31" fill="#fff" stroke="#fff">0.21</text>
<text x="838.80" y="124.31" fill="#fff" stroke="#fff">0.21</text>
<text x="876.00" y="124.31" fill="#fff" stroke="#fff">0.37</text>
<text x="913.20" y="124.31" fill="#fff" stroke="#fff">-0.072</text>
<text x="950.40" y="124.31" fill="#fff" stroke="#fff">-0.02</text>
<text x="987.60" y="124.31" fill="#262626" stroke="#262626">0.96</text>
<text x="1024.80" y="124.31" fill="#fff" stroke="#fff">0.29</text>
<text x="1062.00" y="124.31" fill="#262626" stroke="#262626">0.96</text>
<text x="1099.20" y="124.31" fill="#262626" stroke="#262626">0.96</text>
<text x="1136.40" y="124.31" fill="#fff" stroke="#fff">0.12</text>
<text x="1173.60" y="124.31" fill="#fff" stroke="#fff">0.39</text>
<text x="1210.80" y="124.31" fill="#fff" stroke="#fff">0.51</text>
<text x="1248.00" y="124.31" fill="#262626" stroke="#262626">0.72</text>
<text x="1285.20" y="124.31" fill="#fff" stroke="#fff">0.14</text>
<text x="1322.40" y="124.31" fill="#fff" stroke="#fff">0.0037</text>
<text x="243.60" y="139.10" fill="#fff" stroke="#fff">0.17</text>
<text x="280.80" y="139.10" fill="#fff" stroke="#fff">-0.023</text>
<text x="318.00" y="139.10" fill="#fff" stroke="#fff">0.21</text>
<text x="355.20" y="139.10" fill="#fff" stroke="#fff">0.18</text>
<text x="392.40" y="139.10" fill="#262626" stroke="#262626">1</text>
<text x="429.60" y="139.10" fill="#fff" stroke="#fff">0.66</text>
<text x="466.80" y="139.10" fill="#fff" stroke="#fff">0.52</text>
<text x="504.00" y="139.10" fill="#fff" stroke="#fff">0.55</text>
<text x="541.20" y="139.10" fill="#fff" stroke="#fff">0.56</text>
<text x="578.40" y="139.10" fill="#fff" stroke="#fff">0.58</text>
<text x="615.60" y="139.10" fill="#fff" stroke="#fff">0.3</text>
<text x="652.80" y="139.10" fill="#fff" stroke="#fff">0.068</text>
<text x="690.00" y="139.10" fill="#fff" stroke="#fff">0.3</text>
<text x="727.20" y="139.10" fill="#fff" stroke="#fff">0.25</text>
<text x="764.40" y="139.10" fill="#fff" stroke="#fff">0.33</text>
<text x="801.60" y="139.10" fill="#fff" stroke="#fff">0.32</text>
<text x="838.80" y="139.10" fill="#fff" stroke="#fff">0.25</text>
<text x="876.00" y="139.10" fill="#fff" stroke="#fff">0.38</text>
<text x="913.20" y="139.10" fill="#fff" stroke="#fff">0.2</text>
<text x="950.40" y="139.10" fill="#fff" stroke="#fff">0.28</text>
<text x="987.60" y="139.10" fill="#fff" stroke="#fff">0.21</text>
<text x="1024.80" y="139.10" fill="#fff" stroke="#fff">0.036</text>
<text x="1062.00" y="139.10" fill="#fff" stroke="#fff">0.24</text>
<text x="1099.20" y="139.10" fill="#fff" stroke="#fff">0.21</text>
<text x="1136.40" y="139.10" fill="#262626" stroke="#262626">0.81</text>
<text x="1173.60" y="139.10" fill="#fff" stroke="#fff">0.47</text>
<text x="1210.80" y="139.10" fill="#fff" stroke="#fff">0.43</text>
<text x="1248.00" y="139.10" fill="#fff" stroke="#fff">0.5</text>
<text x="1285.20" y="139.10" fill="#fff" stroke="#fff">0.39</text>
<text x="1322.40" y="139.10" fill="#fff" stroke="#fff">0.5</text>
<text x="243.60" y="153.88" fill="#fff" stroke="#fff">0.51</text>
<text x="280.80" y="153.88" fill="#fff" stroke="#fff">0.24</text>
<text x="318.00" y="153.88" fill="#fff" stroke="#fff">0.56</text>
<text x="355.20" y="153.88" fill="#fff" stroke="#fff">0.5</text>
<text x="392.40" y="153.88" fill="#fff" stroke="#fff">0.66</text>
<text x="429.60" y="153.88" fill="#262626" stroke="#262626">1</text>
<text x="466.80" y="153.88" fill="#262626" stroke="#262626">0.88</text>
<text x="504.00" y="153.88" fill="#262626" stroke="#262626">0.83</text>
<text x="541.20" y="153.88" fill="#fff" stroke="#fff">0.6</text>
<text x="578.40" y="153.88" fill="#fff" stroke="#fff">0.57</text>
<text x="615.60" y="153.88" fill="#fff" stroke="#fff">0.5</text>
<text x="652.80" y="153.88" fill="#fff" stroke="#fff">0.046</text>
<text x="690.00" y="153.88" fill="#fff" stroke="#fff">0.55</text>
<text x="727.20" y="153.88" fill="#fff" stroke="#fff">0.46</text>
<text x="764.40" y="153.88" fill="#fff" stroke="#fff">0.14</text>
<text x="801.60" y="153.88" fill="#262626" stroke="#262626">0.74</text>
<text x="838.80" y="153.88" fill="#fff" stroke="#fff">0.57</text>
<text x="876.00" y="153.88" fill="#fff" stroke="#fff">0.64</text>
<text x="913.20" y="153.88" fill="#fff" stroke="#fff">0.23</text>
<text x="950.40" y="153.88" fill="#fff" stroke="#fff">0.51</text>
<text x="987.60" y="153.88" fill="#fff" stroke="#fff">0.54</text>
<text x="1024.80" y="153.88" fill="#fff" stroke="#fff">0.25</text>
<text x="1062.00" y="153.88" fill="#fff" stroke="#fff">0.59</text>
<text x="1099.20" y="153.88" fill="#fff" stroke="#fff">0.51</text>
<text x="1136.40" y="153.88" fill="#fff" stroke="#fff">0.57</text>
<text x="1173.60" y="153.88" fill="#262626" stroke="#262626">0.87</text>
<text x="1210.80" y="153.88" fill="#262626" stroke="#262626">0.82</text>
<text x="1248.00" y="153.88" fill="#262626" stroke="#262626">0.82</text>
<text x="1285.20" y="153.88" fill="#fff" stroke="#fff">0.51</text>
<text x="1322.40" y="153.88" fill="#fff" stroke="#fff">0.69</text>
<text x="243.60" y="168.67" fill="#fff" stroke="#fff">0.68</text>
<text x="280.80" y="168.67" fill="#fff" stroke="#fff">0.3</text>
<text x="318.00" y="168.67" fill="#262626" stroke="#262626">0.72</text>
<text x="355.20" y="168.67" fill="#fff" stroke="#fff">0.69</text>
<text x="392.40" y="168.67" fill="#fff" stroke="#fff">0.52</text>
<text x="429.60" y="168.67" fill="#262626" stroke="#262626">0.88</text>
<text x="466.80" y="168.67" fill="#262626" stroke="#262626">1</text>
<text x="504.00" y="168.67" fill="#262626" stroke="#262626">0.92</text>
<text x="541.20" y="168.67" fill="#fff" stroke="#fff">0.5</text>
<text x="578.40" y="168.67" fill="#fff" stroke="#fff">0.34</text>
<text x="615.60" y="168.67" fill="#fff" stroke="#fff">0.63</text>
<text x="652.80" y="168.67" fill="#fff" stroke="#fff">0.076</text>
<text x="690.00" y="168.67" fill="#fff" stroke="#fff">0.66</text>
<text x="727.20" y="168.67" fill="#fff" stroke="#fff">0.62</text>
<text x="764.40" y="168.67" fill="#fff" stroke="#fff">0.099</text>
<text x="801.60" y="168.67" fill="#fff" stroke="#fff">0.67</text>
<text x="838.80" y="168.67" fill="#fff" stroke="#fff">0.69</text>
<text x="876.00" y="168.67" fill="#fff" stroke="#fff">0.68</text>
<text x="913.20" y="168.67" fill="#fff" stroke="#fff">0.18</text>
<text x="950.40" y="168.67" fill="#fff" stroke="#fff">0.45</text>
<text x="987.60" y="168.67" fill="#fff" stroke="#fff">0.69</text>
<text x="1024.80" y="168.67" fill="#fff" stroke="#fff">0.3</text>
<text x="1062.00" y="168.67" fill="#262626" stroke="#262626">0.73</text>
<text x="1099.20" y="168.67" fill="#fff" stroke="#fff">0.68</text>
<text x="1136.40" y="168.67" fill="#fff" stroke="#fff">0.45</text>
<text x="1173.60" y="168.67" fill="#262626" stroke="#262626">0.75</text>
<text x="1210.80" y="168.67" fill="#262626" stroke="#262626">0.88</text>
<text x="1248.00" y="168.67" fill="#262626" stroke="#262626">0.86</text>
<text x="1285.20" y="168.67" fill="#fff" stroke="#fff">0.41</text>
<text x="1322.40" y="168.67" fill="#fff" stroke="#fff">0.51</text>
<text x="243.60" y="183.45" fill="#262626" stroke="#262626">0.82</text>
<text x="280.80" y="183.45" fill="#fff" stroke="#fff">0.29</text>
<text x="318.00" y="183.45" fill="#262626" stroke="#262626">0.85</text>
<text x="355.20" y="183.45" fill="#262626" stroke="#262626">0.82</text>
<text x="392.40" y="183.45" fill="#fff" stroke="#fff">0.55</text>
<text x="429.60" y="183.45" fill="#262626" stroke="#262626">0.83</text>
<text x="466.80" y="183.45" fill="#262626" stroke="#262626">0.92</text>
<text x="504.00" y="183.45" fill="#262626" stroke="#262626">1</text>
<text x="541.20" y="183.45" fill="#fff" stroke="#fff">0.46</text>
<text x="578.40" y="183.45" fill="#fff" stroke="#fff">0.17</text>
<text x="615.60" y="183.45" fill="#fff" stroke="#fff">0.7</text>
<text x="652.80" y="183.45" fill="#fff" stroke="#fff">0.021</text>
<text x="690.00" y="183.45" fill="#262626" stroke="#262626">0.71</text>
<text x="727.20" y="183.45" fill="#fff" stroke="#fff">0.69</text>
<text x="764.40" y="183.45" fill="#fff" stroke="#fff">0.028</text>
<text x="801.60" y="183.45" fill="#fff" stroke="#fff">0.49</text>
<text x="838.80" y="183.45" fill="#fff" stroke="#fff">0.44</text>
<text x="876.00" y="183.45" fill="#fff" stroke="#fff">0.62</text>
<text x="913.20" y="183.45" fill="#fff" stroke="#fff">0.095</text>
<text x="950.40" y="183.45" fill="#fff" stroke="#fff">0.26</text>
<text x="987.60" y="183.45" fill="#262626" stroke="#262626">0.83</text>
<text x="1024.80" y="183.45" fill="#fff" stroke="#fff">0.29</text>
<text x="1062.00" y="183.45" fill="#262626" stroke="#262626">0.86</text>
<text x="1099.20" y="183.45" fill="#262626" stroke="#262626">0.81</text>
<text x="1136.40" y="183.45" fill="#fff" stroke="#fff">0.45</text>
<text x="1173.60" y="183.45" fill="#fff" stroke="#fff">0.67</text>
<text x="1210.80" y="183.45" fill="#262626" stroke="#262626">0.75</text>
<text x="1248.00" y="183.45" fill="#262626" stroke="#262626">0.91</text>
<text x="1285.20" y="183.45" fill="#fff" stroke="#fff">0.38</text>
<text x="1322.40" y="183.45" fill="#fff" stroke="#fff">0.37</text>
<text x="243.60" y="198.23" fill="#fff" stroke="#fff">0.15</text>
<text x="280.80" y="198.23" fill="#fff" stroke="#fff">0.071</text>
<text x="318.00" y="198.23" fill="#fff" stroke="#fff">0.18</text>
<text x="355.20" y="198.23" fill="#fff" stroke="#fff">0.15</text>
<text x="392.40" y="198.23" fill="#fff" stroke="#fff">0.56</text>
<text x="429.60" y="198.23" fill="#fff" stroke="#fff">0.6</text>
<text x="466.80" y="198.23" fill="#fff" stroke="#fff">0.5</text>
<text x="504.00" y="198.23" fill="#fff" stroke="#fff">0.46</text>
<text x="541.20" y="198.23" fill="#262626" stroke="#262626">1</text>
<text x="578.40" y="198.23" fill="#fff" stroke="#fff">0.48</text>
<text x="615.60" y="198.23" fill="#fff" stroke="#fff">0.3</text>
<text x="652.80" y="198.23" fill="#fff" stroke="#fff">0.13</text>
<text x="690.00" y="198.23" fill="#fff" stroke="#fff">0.31</text>
<text x="727.20" y="198.23" fill="#fff" stroke="#fff">0.22</text>
<text x="764.40" y="198.23" fill="#fff" stroke="#fff">0.19</text>
<text x="801.60" y="198.23" fill="#fff" stroke="#fff">0.42</text>
<text x="838.80" y="198.23" fill="#fff" stroke="#fff">0.34</text>
<text x="876.00" y="198.23" fill="#fff" stroke="#fff">0.39</text>
<text x="913.20" y="198.23" fill="#fff" stroke="#fff">0.45</text>
<text x="950.40" y="198.23" fill="#fff" stroke="#fff">0.33</text>
<text x="987.60" y="198.23" fill="#fff" stroke="#fff">0.19</text>
<text x="1024.80" y="198.23" fill="#fff" stroke="#fff">0.091</text>
<text x="1062.00" y="198.23" fill="#fff" stroke="#fff">0.22</text>
<text x="1099.20" y="198.23" fill="#fff" stroke="#fff">0.18</text>
<text x="1136.40" y="198.23" fill="#fff" stroke="#fff">0.43</text>
<text x="1173.60" y="198.23" fill="#fff" stroke="#fff">0.47</text>
<text x="1210.80" y="198.23" fill="#fff" stroke="#fff">0.43</text>
<text x="1248.00" y="198.23" fill="#fff" stroke="#fff">0.43</text>
<text x="1285.20" y="198.23" fill="#fff" stroke="#fff">0.7</text>
<text x="1322.40" y="198.23" fill="#fff" stroke="#fff">0.44</text>
<text x="243.60" y="213.02" fill="#fff" stroke="#fff">-0.31</text>
<text x="280.80" y="213.02" fill="#fff" stroke="#fff">-0.076</text>
<text x="318.00" y="213.02" fill="#fff" stroke="#fff">-0.26</text>
<text x="355.20" y="213.02" fill="#fff" stroke="#fff">-0.28</text>
<text x="392.40" y="213.02" fill="#fff" stroke="#fff">0.58</text>
<text x="429.60" y="213.02" fill="#fff" stroke="#fff">0.57</text>
<text x="466.80" y="213.02" fill="#fff" stroke="#fff">0.34</text>
<text x="504.00" y="213.02" fill="#fff" stroke="#fff">0.17</text>
<text x="541.20" y="213.02" fill="#fff" stroke="#fff">0.48</text>
<text x="578.40" y="213.02" fill="#262626" stroke="#262626">1</text>
<text x="615.60" y="213.02" fill="#fff" stroke="#fff">0.00011</text>
<text x="652.80" y="213.02" fill="#fff" stroke="#fff">0.16</text>
<text x="690.00" y="213.02" fill="#fff" stroke="#fff">0.04</text>
<text x="727.20" y="213.02" fill="#fff" stroke="#fff">-0.09</text>
<text x="764.40" y="213.02" fill="#fff" stroke="#fff">0.4</text>
<text x="801.60" y="213.02" fill="#fff" stroke="#fff">0.56</text>
<text x="838.80" y="213.02" fill="#fff" stroke="#fff">0.45</text>
<text x="876.00" y="213.02" fill="#fff" stroke="#fff">0.34</text>
<text x="913.20" y="213.02" fill="#fff" stroke="#fff">0.35</text>
<text x="950.40" y="213.02" fill="#fff" stroke="#fff">0.69</text>
<text x="987.60" y="213.02" fill="#fff" stroke="#fff">-0.25</text>
<text x="1024.80" y="213.02" fill="#fff" stroke="#fff">-0.051</text>
<text x="1062.00" y="213.02" fill="#fff" stroke="#fff">-0.21</text>
<text x="1099.20" y="213.02" fill="#fff" stroke="#fff">-0.23</text>
<text x="1136.40" y="213.02" fill="#fff" stroke="#fff">0.5</text>
<text x="1173.60" y="213.02" fill="#fff" stroke="#fff">0.46</text>
<text x="1210.80" y="213.02" fill="#fff" stroke="#fff">0.35</text>
<text x="1248.00" y="213.02" fill="#fff" stroke="#fff">0.18</text>
<text x="1285.20" y="213.02" fill="#fff" stroke="#fff">0.33</text>
<text x="1322.40" y="213.02" fill="#262626" stroke="#262626">0.77</text>
<text x="243.60" y="227.80" fill="#fff" stroke="#fff">0.68</text>
<text x="280.80" y="227.80" fill="#fff" stroke="#fff">0.28</text>
<text x="318.00" y="227.80" fill="#fff" stroke="#fff">0.69</text>
<text x="355.20" y="227.80" fill="#262626" stroke="#262626">0.73</text>
<text x="392.40" y="227.80" fill="#fff" stroke="#fff">0.3</text>
<text x="429.60" y="227.80" fill="#fff" stroke="#fff">0.5</text>
<text x="466.80" y="227.80" fill="#fff" stroke="#fff">0.63</text>
<text x="504.00" y="227.80" fill="#fff" stroke="#fff">0.7</text>
<text x="541.20" y="227.80" fill="#fff" stroke="#fff">0.3</text>
<text x="578.40" y="227.80" fill="#fff" stroke="#fff">0.00011</text>
<text x="615.60" y="227.80" fill="#262626" stroke="#262626">1</text>
<text x="652.80" y="227.80" fill="#fff" stroke="#fff">0.21</text>
<text x="690.00" y="227.80" fill="#262626" stroke="#262626">0.97</text>
<text x="727.20" y="227.80" fill="#262626" stroke="#262626">0.95</text>
<text x="764.40" y="227.80" fill="#fff" stroke="#fff">0.16</text>
<text x="801.60" y="227.80" fill="#fff" stroke="#fff">0.36</text>
<text x="838.80" y="227.80" fill="#fff" stroke="#fff">0.33</text>
<text x="876.00" y="227.80" fill="#fff" stroke="#fff">0.51</text>
<text x="913.20" y="227.80" fill="#fff" stroke="#fff">0.24</text>
<text x="950.40" y="227.80" fill="#fff" stroke="#fff">0.23</text>
<text x="987.60" y="227.80" fill="#262626" stroke="#262626">0.72</text>
<text x="1024.80" y="227.80" fill="#fff" stroke="#fff">0.19</text>
<text x="1062.00" y="227.80" fill="#262626" stroke="#262626">0.72</text>
<text x="1099.20" y="227.80" fill="#262626" stroke="#262626">0.75</text>
<text x="1136.40" y="227.80" fill="#fff" stroke="#fff">0.14</text>
<text x="1173.60" y="227.80" fill="#fff" stroke="#fff">0.29</text>
<text x="1210.80" y="227.80" fill="#fff" stroke="#fff">0.38</text>
<text x="1248.00" y="227.80" fill="#fff" stroke="#fff">0.53</text>
<text x="1285.20" y="227.80" fill="#fff" stroke="#fff">0.095</text>
<text x="1322.40" y="227.80" fill="#fff" stroke="#fff">0.05</text>
<text x="243.60" y="242.59" fill="#fff" stroke="#fff">-0.097</text>
<text x="280.80" y="242.59" fill="#fff" stroke="#fff">0.39</text>
<text x="318.00" y="242.59" fill="#fff" stroke="#fff">-0.087</text>
<text x="355.20" y="242.59" fill="#fff" stroke="#fff">-0.066</text>
<text x="392.40" y="242.59" fill="#fff" stroke="#fff">0.068</text>
<text x="429.60" y="242.59" fill="#fff" stroke="#fff">0.046</text>
<text x="466.80" y="242.59" fill="#fff" stroke="#fff">0.076</text>
<text x="504.00" y="242.59" fill="#fff" stroke="#fff">0.021</text>
<text x="541.20" y="242.59" fill="#fff" stroke="#fff">0.13</text>
<text x="578.40" y="242.59" fill="#fff" stroke="#fff">0.16</text>
<text x="615.60" y="242.59" fill="#fff" stroke="#fff">0.21</text>
<text x="652.80" y="242.59" fill="#262626" stroke="#262626">1</text>
<text x="690.00" y="242.59" fill="#fff" stroke="#fff">0.22</text>
<text x="727.20" y="242.59" fill="#fff" stroke="#fff">0.11</text>
<text x="764.40" y="242.59" fill="#fff" stroke="#fff">0.4</text>
<text x="801.60" y="242.59" fill="#fff" stroke="#fff">0.23</text>
<text x="838.80" y="242.59" fill="#fff" stroke="#fff">0.19</text>
<text x="876.00" y="242.59" fill="#fff" stroke="#fff">0.23</text>
<text x="913.20" y="242.59" fill="#fff" stroke="#fff">0.41</text>
<text x="950.40" y="242.59" fill="#fff" stroke="#fff">0.28</text>
<text x="987.60" y="242.59" fill="#fff" stroke="#fff">-0.11</text>
<text x="1024.80" y="242.59" fill="#fff" stroke="#fff">0.41</text>
<text x="1062.00" y="242.59" fill="#fff" stroke="#fff">-0.1</text>
<text x="1099.20" y="242.59" fill="#fff" stroke="#fff">-0.083</text>
<text x="1136.40" y="242.59" fill="#fff" stroke="#fff">-0.074</text>
<text x="1173.60" y="242.59" fill="#fff" stroke="#fff">-0.092</text>
<text x="1210.80" y="242.59" fill="#fff" stroke="#fff">-0.069</text>
<text x="1248.00" y="242.59" fill="#fff" stroke="#fff">-0.12</text>
<text x="1285.20" y="242.59" fill="#fff" stroke="#fff">-0.13</text>
<text x="1322.40" y="242.59" fill="#fff" stroke="#fff">-0.046</text>
<text x="243.60" y="257.37" fill="#fff" stroke="#fff">0.67</text>
<text x="280.80" y="257.37" fill="#fff" stroke="#fff">0.28</text>
<text x="318.00" y="257.37" fill="#fff" stroke="#fff">0.69</text>
<text x="355.20" y="257.37" fill="#262626" stroke="#262626">0.73</text>
<text x="392.40" y="257.37" fill="#fff" stroke="#fff">0.3</text>
<text x="429.60" y="257.37" fill="#fff" stroke="#fff">0.55</text>
<text x="466.80" y="257.37" fill="#fff" stroke="#fff">0.66</text>
<text x="504.00" y="257.37" fill="#262626" stroke="#262626">0.71</text>
<text x="541.20" y="257.37" fill="#fff" stroke="#fff">0.31</text>
<text x="578.40" y="257.37" fill="#fff" stroke="#fff">0.04</text>
<text x="615.60" y="257.37" fill="#262626" stroke="#262626">0.97</text>
<text x="652.80" y="257.37" fill="#fff" stroke="#fff">0.22</text>
<text x="690.00" y="257.37" fill="#262626" stroke="#262626">1</text>
<text x="727.20" y="257.37" fill="#262626" stroke="#262626">0.94</text>
<text x="764.40" y="257.37" fill="#fff" stroke="#fff">0.15</text>
<text x="801.60" y="257.37" fill="#fff" stroke="#fff">0.42</text>
<text x="838.80" y="257.37" fill="#fff" stroke="#fff">0.36</text>
<text x="876.00" y="257.37" fill="#fff" stroke="#fff">0.56</text>
<text x="913.20" y="257.37" fill="#fff" stroke="#fff">0.27</text>
<text x="950.40" y="257.37" fill="#fff" stroke="#fff">0.24</text>
<text x="987.60" y="257.37" fill="#fff" stroke="#fff">0.7</text>
<text x="1024.80" y="257.37" fill="#fff" stroke="#fff">0.2</text>
<text x="1062.00" y="257.37" fill="#262626" stroke="#262626">0.72</text>
<text x="1099.20" y="257.37" fill="#262626" stroke="#262626">0.73</text>
<text x="1136.40" y="257.37" fill="#fff" stroke="#fff">0.13</text>
<text x="1173.60" y="257.37" fill="#fff" stroke="#fff">0.34</text>
<text x="1210.80" y="257.37" fill="#fff" stroke="#fff">0.42</text>
<text x="1248.00" y="257.37" fill="#fff" stroke="#fff">0.55</text>
<text x="1285.20" y="257.37" fill="#fff" stroke="#fff">0.11</text>
<text x="1322.40" y="257.37" fill="#fff" stroke="#fff">0.085</text>
<text x="243.60" y="272.15" fill="#262626" stroke="#262626">0.74</text>
<text x="280.80" y="272.15" fill="#fff" stroke="#fff">0.26</text>
<text x="318.00" y="272.15" fill="#262626" stroke="#262626">0.74</text>
<text x="355.20" y="272.15" fill="#262626" stroke="#262626">0.8</text>
<text x="392.40" y="272.15" fill="#fff" stroke="#fff">0.25</text>
<text x="429.60" y="272.15" fill="#fff" stroke="#fff">0.46</text>
<text x="466.80" y="272.15" fill="#fff" stroke="#fff">0.62</text>
<text x="504.00" y="272.15" fill="#fff" stroke="#fff">0.69</text>
<text x="541.20" y="272.15" fill="#fff" stroke="#fff">0.22</text>
<text x="578.40" y="272.15" fill="#fff" stroke="#fff">-0.09</text>
<text x="615.60" y="272.15" fill="#262626" stroke="#262626">0.95</text>
<text x="652.80" y="272.15" fill="#fff" stroke="#fff">0.11</text>
<text x="690.00" y="272.15" fill="#262626" stroke="#262626">0.94</text>
<text x="727.20" y="272.15" fill="#262626" stroke="#262626">1</text>
<text x="764.40" y="272.15" fill="#fff" stroke="#fff">0.075</text>
<text x="801.60" y="272.15" fill="#fff" stroke="#fff">0.28</text>
<text x="838.80" y="272.15" fill="#fff" stroke="#fff">0.27</text>
<text x="876.00" y="272.15" fill="#fff" stroke="#fff">0.42</text>
<text x="913.20" y="272.15" fill="#fff" stroke="#fff">0.13</text>
<text x="950.40" y="272.15" fill="#fff" stroke="#fff">0.13</text>
<text x="987.60" y="272.15" fill="#262626" stroke="#262626">0.76</text>
<text x="1024.80" y="272.15" fill="#fff" stroke="#fff">0.2</text>
<text x="1062.00" y="272.15" fill="#262626" stroke="#262626">0.76</text>
<text x="1099.20" y="272.15" fill="#262626" stroke="#262626">0.81</text>
<text x="1136.40" y="272.15" fill="#fff" stroke="#fff">0.13</text>
<text x="1173.60" y="272.15" fill="#fff" stroke="#fff">0.28</text>
<text x="1210.80" y="272.15" fill="#fff" stroke="#fff">0.39</text>
<text x="1248.00" y="272.15" fill="#fff" stroke="#fff">0.54</text>
<text x="1285.20" y="272.15" fill="#fff" stroke="#fff">0.074</text>
<text x="1322.40" y="272.15" fill="#fff" stroke="#fff">0.018</text>
<text x="243.60" y="286.94" fill="#fff" stroke="#fff">-0.22</text>
<text x="280.80" y="286.94" fill="#fff" stroke="#fff">0.0066</text>
<text x="318.00" y="286.94" fill="#fff" stroke="#fff">-0.2</text>
<text x="355.20" y="286.94" fill="#fff" stroke="#fff">-0.17</text>
<text x="392.40" y="286.94" fill="#fff" stroke="#fff">0.33</text>
<text x="429.60" y="286.94" fill="#fff" stroke="#fff">0.14</text>
<text x="466.80" y="286.94" fill="#fff" stroke="#fff">0.099</text>
<text x="504.00" y="286.94" fill="#fff" stroke="#fff">0.028</text>
<text x="541.20" y="286.94" fill="#fff" stroke="#fff">0.19</text>
<text x="578.40" y="286.94" fill="#fff" stroke="#fff">0.4</text>
<text x="615.60" y="286.94" fill="#fff" stroke="#fff">0.16</text>
<text x="652.80" y="286.94" fill="#fff" stroke="#fff">0.4</text>
<text x="690.00" y="286.94" fill="#fff" stroke="#fff">0.15</text>
<text x="727.20" y="286.94" fill="#fff" stroke="#fff">0.075</text>
<text x="764.40" y="286.94" fill="#262626" stroke="#262626">1</text>
<text x="801.60" y="286.94" fill="#fff" stroke="#fff">0.34</text>
<text x="838.80" y="286.94" fill="#fff" stroke="#fff">0.27</text>
<text x="876.00" y="286.94" fill="#fff" stroke="#fff">0.33</text>
<text x="913.20" y="286.94" fill="#fff" stroke="#fff">0.41</text>
<text x="950.40" y="286.94" fill="#fff" stroke="#fff">0.43</text>
<text x="987.60" y="286.94" fill="#fff" stroke="#fff">-0.23</text>
<text x="1024.80" y="286.94" fill="#fff" stroke="#fff">-0.075</text>
<text x="1062.00" y="286.94" fill="#fff" stroke="#fff">-0.22</text>
<text x="1099.20" y="286.94" fill="#fff" stroke="#fff">-0.18</text>
<text x="1136.40" y="286.94" fill="#fff" stroke="#fff">0.31</text>
<text x="1173.60" y="286.94" fill="#fff" stroke="#fff">-0.056</text>
<text x="1210.80" y="286.94" fill="#fff" stroke="#fff">-0.058</text>
<text x="1248.00" y="286.94" fill="#fff" stroke="#fff">-0.1</text>
<text x="1285.20" y="286.94" fill="#fff" stroke="#fff">-0.11</text>
<text x="1322.40" y="286.94" fill="#fff" stroke="#fff">0.1</text>
<text x="243.60" y="301.72" fill="#fff" stroke="#fff">0.21</text>
<text x="280.80" y="301.72" fill="#fff" stroke="#fff">0.19</text>
<text x="318.00" y="301.72" fill="#fff" stroke="#fff">0.25</text>
<text x="355.20" y="301.72" fill="#fff" stroke="#fff">0.21</text>
<text x="392.40" y="301.72" fill="#fff" stroke="#fff">0.32</text>
<text x="429.60" y="301.72" fill="#262626" stroke="#262626">0.74</text>
<text x="466.80" y="301.72" fill="#fff" stroke="#fff">0.67</text>
<text x="504.00" y="301.72" fill="#fff" stroke="#fff">0.49</text>
<text x="541.20" y="301.72" fill="#fff" stroke="#fff">0.42</text>
<text x="578.40" y="301.72" fill="#fff" stroke="#fff">0.56</text>
<text x="615.60" y="301.72" fill="#fff" stroke="#fff">0.36</text>
<text x="652.80" y="301.72" fill="#fff" stroke="#fff">0.23</text>
<text x="690.00" y="301.72" fill="#fff" stroke="#fff">0.42</text>
<text x="727.20" y="301.72" fill="#fff" stroke="#fff">0.28</text>
<text x="764.40" y="301.72" fill="#fff" stroke="#fff">0.34</text>
<text x="801.60" y="301.72" fill="#262626" stroke="#262626">1</text>
<text x="838.80" y="301.72" fill="#262626" stroke="#262626">0.8</text>
<text x="876.00" y="301.72" fill="#262626" stroke="#262626">0.74</text>
<text x="913.20" y="301.72" fill="#fff" stroke="#fff">0.39</text>
<text x="950.40" y="301.72" fill="#262626" stroke="#262626">0.8</text>
<text x="987.60" y="301.72" fill="#fff" stroke="#fff">0.2</text>
<text x="1024.80" y="301.72" fill="#fff" stroke="#fff">0.14</text>
<text x="1062.00" y="301.72" fill="#fff" stroke="#fff">0.26</text>
<text x="1099.20" y="301.72" fill="#fff" stroke="#fff">0.2</text>
<text x="1136.40" y="301.72" fill="#fff" stroke="#fff">0.23</text>
<text x="1173.60" y="301.72" fill="#fff" stroke="#fff">0.68</text>
<text x="1210.80" y="301.72" fill="#fff" stroke="#fff">0.64</text>
<text x="1248.00" y="301.72" fill="#fff" stroke="#fff">0.48</text>
<text x="1285.20" y="301.72" fill="#fff" stroke="#fff">0.28</text>
<text x="1322.40" y="301.72" fill="#fff" stroke="#fff">0.59</text>
<text x="243.60" y="316.51" fill="#fff" stroke="#fff">0.19</text>
<text x="280.80" y="316.51" fill="#fff" stroke="#fff">0.14</text>
<text x="318.00" y="316.51" fill="#fff" stroke="#fff">0.23</text>
<text x="355.20" y="316.51" fill="#fff" stroke="#fff">0.21</text>
<text x="392.40" y="316.51" fill="#fff" stroke="#fff">0.25</text>
<text x="429.60" y="316.51" fill="#fff" stroke="#fff">0.57</text>
<text x="466.80" y="316.51" fill="#fff" stroke="#fff">0.69</text>
<text x="504.00" y="316.51" fill="#fff" stroke="#fff">0.44</text>
<text x="541.20" y="316.51" fill="#fff" stroke="#fff">0.34</text>
<text x="578.40" y="316.51" fill="#fff" stroke="#fff">0.45</text>
<text x="615.60" y="316.51" fill="#fff" stroke="#fff">0.33</text>
<text x="652.80" y="316.51" fill="#fff" stroke="#fff">0.19</text>
<text x="690.00" y="316.51" fill="#fff" stroke="#fff">0.36</text>
<text x="727.20" y="316.51" fill="#fff" stroke="#fff">0.27</text>
<text x="764.40" y="316.51" fill="#fff" stroke="#fff">0.27</text>
<text x="801.60" y="316.51" fill="#262626" stroke="#262626">0.8</text>
<text x="838.80" y="316.51" fill="#262626" stroke="#262626">1</text>
<text x="876.00" y="316.51" fill="#262626" stroke="#262626">0.77</text>
<text x="913.20" y="316.51" fill="#fff" stroke="#fff">0.31</text>
<text x="950.40" y="316.51" fill="#262626" stroke="#262626">0.73</text>
<text x="987.60" y="316.51" fill="#fff" stroke="#fff">0.19</text>
<text x="1024.80" y="316.51" fill="#fff" stroke="#fff">0.1</text>
<text x="1062.00" y="316.51" fill="#fff" stroke="#fff">0.23</text>
<text x="1099.20" y="316.51" fill="#fff" stroke="#fff">0.19</text>
<text x="1136.40" y="316.51" fill="#fff" stroke="#fff">0.17</text>
<text x="1173.60" y="316.51" fill="#fff" stroke="#fff">0.48</text>
<text x="1210.80" y="316.51" fill="#fff" stroke="#fff">0.66</text>
<text x="1248.00" y="316.51" fill="#fff" stroke="#fff">0.44</text>
<text x="1285.20" y="316.51" fill="#fff" stroke="#fff">0.2</text>
<text x="1322.40" y="316.51" fill="#fff" stroke="#fff">0.44</text>
<text x="243.60" y="331.29" fill="#fff" stroke="#fff">0.38</text>
<text x="280.80" y="331.29" fill="#fff" stroke="#fff">0.16</text>
<text x="318.00" y="331.29" fill="#fff" stroke="#fff">0.41</text>
<text x="355.20" y="331.29" fill="#fff" stroke="#fff">0.37</text>
<text x="392.40" y="331.29" fill="#fff" stroke="#fff">0.38</text>
<text x="429.60" y="331.29" fill="#fff" stroke="#fff">0.64</text>
<text x="466.80" y="331.29" fill="#fff" stroke="#fff">0.68</text>
<text x="504.00" y="331.29" fill="#fff" stroke="#fff">0.62</text>
<text x="541.20" y="331.29" fill="#fff" stroke="#fff">0.39</text>
<text x="578.40" y="331.29" fill="#fff" stroke="#fff">0.34</text>
<text x="615.60" y="331.29" fill="#fff" stroke="#fff">0.51</text>
<text x="652.80" y="331.29" fill="#fff" stroke="#fff">0.23</text>
<text x="690.00" y="331.29" fill="#fff" stroke="#fff">0.56</text>
<text x="727.20" y="331.29" fill="#fff" stroke="#fff">0.42</text>
<text x="764.40" y="331.29" fill="#fff" stroke="#fff">0.33</text>
<text x="801.60" y="331.29" fill="#262626" stroke="#262626">0.74</text>
<text x="838.80" y="331.29" fill="#262626" stroke="#262626">0.77</text>
<text x="876.00" y="331.29" fill="#262626" stroke="#262626">1</text>
<text x="913.20" y="331.29" fill="#fff" stroke="#fff">0.31</text>
<text x="950.40" y="331.29" fill="#fff" stroke="#fff">0.61</text>
<text x="987.60" y="331.29" fill="#fff" stroke="#fff">0.36</text>
<text x="1024.80" y="331.29" fill="#fff" stroke="#fff">0.087</text>
<text x="1062.00" y="331.29" fill="#fff" stroke="#fff">0.39</text>
<text x="1099.20" y="331.29" fill="#fff" stroke="#fff">0.34</text>
<text x="1136.40" y="331.29" fill="#fff" stroke="#fff">0.22</text>
<text x="1173.60" y="331.29" fill="#fff" stroke="#fff">0.45</text>
<text x="1210.80" y="331.29" fill="#fff" stroke="#fff">0.55</text>
<text x="1248.00" y="331.29" fill="#fff" stroke="#fff">0.6</text>
<text x="1285.20" y="331.29" fill="#fff" stroke="#fff">0.14</text>
<text x="1322.40" y="331.29" fill="#fff" stroke="#fff">0.31</text>
<text x="243.60" y="346.07" fill="#fff" stroke="#fff">-0.1</text>
<text x="280.80" y="346.07" fill="#fff" stroke="#fff">0.0091</text>
<text x="318.00" y="346.07" fill="#fff" stroke="#fff">-0.082</text>
<text x="355.20" y="346.07" fill="#fff" stroke="#fff">-0.072</text>
<text x="392.40" y="346.07" fill="#fff" stroke="#fff">0.2</text>
<text x="429.60" y="346.07" fill="#fff" stroke="#fff">0.23</text>
<text x="466.80" y="346.07" fill="#fff" stroke="#fff">0.18</text>
<text x="504.00" y="346.07" fill="#fff" stroke="#fff">0.095</text>
<text x="541.20" y="346.07" fill="#fff" stroke="#fff">0.45</text>
<text x="578.40" y="346.07" fill="#fff" stroke="#fff">0.35</text>
<text x="615.60" y="346.07" fill="#fff" stroke="#fff">0.24</text>
<text x="652.80" y="346.07" fill="#fff" stroke="#fff">0.41</text>
<text x="690.00" y="346.07" fill="#fff" stroke="#fff">0.27</text>
<text x="727.20" y="346.07" fill="#fff" stroke="#fff">0.13</text>
<text x="764.40" y="346.07" fill="#fff" stroke="#fff">0.41</text>
<text x="801.60" y="346.07" fill="#fff" stroke="#fff">0.39</text>
<text x="838.80" y="346.07" fill="#fff" stroke="#fff">0.31</text>
<text x="876.00" y="346.07" fill="#fff" stroke="#fff">0.31</text>
<text x="913.20" y="346.07" fill="#262626" stroke="#262626">1</text>
<text x="950.40" y="346.07" fill="#fff" stroke="#fff">0.37</text>
<text x="987.60" y="346.07" fill="#fff" stroke="#fff">-0.13</text>
<text x="1024.80" y="346.07" fill="#fff" stroke="#fff">-0.077</text>
<text x="1062.00" y="346.07" fill="#fff" stroke="#fff">-0.1</text>
<text x="1099.20" y="346.07" fill="#fff" stroke="#fff">-0.11</text>
<text x="1136.40" y="346.07" fill="#fff" stroke="#fff">-0.013</text>
<text x="1173.60" y="346.07" fill="#fff" stroke="#fff">0.06</text>
<text x="1210.80" y="346.07" fill="#fff" stroke="#fff">0.037</text>
<text x="1248.00" y="346.07" fill="#fff" stroke="#fff">-0.03</text>
<text x="1285.20" y="346.07" fill="#fff" stroke="#fff">0.39</text>
<text x="1322.40" y="346.07" fill="#fff" stroke="#fff">0.078</text>
<text x="243.60" y="360.86" fill="#fff" stroke="#fff">-0.043</text>
<text x="280.80" y="360.86" fill="#fff" stroke="#fff">0.054</text>
<text x="318.00" y="360.86" fill="#fff" stroke="#fff">-0.0055</text>
<text x="355.20" y="360.86" fill="#fff" stroke="#fff">-0.02</text>
<text x="392.40" y="360.86" fill="#fff" stroke="#fff">0.28</text>
<text x="429.60" y="360.86" fill="#fff" stroke="#fff">0.51</text>
<text x="466.80" y="360.86" fill="#fff" stroke="#fff">0.45</text>
<text x="504.00" y="360.86" fill="#fff" stroke="#fff">0.26</text>
<text x="541.20" y="360.86" fill="#fff" stroke="#fff">0.33</text>
<text x="578.40" y="360.86" fill="#fff" stroke="#fff">0.69</text>
<text x="615.60" y="360.86" fill="#fff" stroke="#fff">0.23</text>
<text x="652.80" y="360.86" fill="#fff" stroke="#fff">0.28</text>
<text x="690.00" y="360.86" fill="#fff" stroke="#fff">0.24</text>
<text x="727.20" y="360.86" fill="#fff" stroke="#fff">0.13</text>
<text x="764.40" y="360.86" fill="#fff" stroke="#fff">0.43</text>
<text x="801.60" y="360.86" fill="#262626" stroke="#262626">0.8</text>
<text x="838.80" y="360.86" fill="#262626" stroke="#262626">0.73</text>
<text x="876.00" y="360.86" fill="#fff" stroke="#fff">0.61</text>
<text x="913.20" y="360.86" fill="#fff" stroke="#fff">0.37</text>
<text x="950.40" y="360.86" fill="#262626" stroke="#262626">1</text>
<text x="987.60" y="360.86" fill="#fff" stroke="#fff">-0.037</text>
<text x="1024.80" y="360.86" fill="#fff" stroke="#fff">-0.0032</text>
<text x="1062.00" y="360.86" fill="#fff" stroke="#fff">-0.001</text>
<text x="1099.20" y="360.86" fill="#fff" stroke="#fff">-0.023</text>
<text x="1136.40" y="360.86" fill="#fff" stroke="#fff">0.17</text>
<text x="1173.60" y="360.86" fill="#fff" stroke="#fff">0.39</text>
<text x="1210.80" y="360.86" fill="#fff" stroke="#fff">0.38</text>
<text x="1248.00" y="360.86" fill="#fff" stroke="#fff">0.22</text>
<text x="1285.20" y="360.86" fill="#fff" stroke="#fff">0.11</text>
<text x="1322.40" y="360.86" fill="#fff" stroke="#fff">0.59</text>
<text x="243.60" y="375.64" fill="#262626" stroke="#262626">0.97</text>
<text x="280.80" y="375.64" fill="#fff" stroke="#fff">0.35</text>
<text x="318.00" y="375.64" fill="#262626" stroke="#262626">0.97</text>
<text x="355.20" y="375.64" fill="#262626" stroke="#262626">0.96</text>
<text x="392.40" y="375.64" fill="#fff" stroke="#fff">0.21</text>
<text x="429.60" y="375.64" fill="#fff" stroke="#fff">0.54</text>
<text x="466.80" y="375.64" fill="#fff" stroke="#fff">0.69</text>
<text x="504.00" y="375.64" fill="#262626" stroke="#262626">0.83</text>
<text x="541.20" y="375.64" fill="#fff" stroke="#fff">0.19</text>
<text x="578.40" y="375.64" fill="#fff" stroke="#fff">-0.25</text>
<text x="615.60" y="375.64" fill="#262626" stroke="#262626">0.72</text>
<text x="652.80" y="375.64" fill="#fff" stroke="#fff">-0.11</text>
<text x="690.00" y="375.64" fill="#fff" stroke="#fff">0.7</text>
<text x="727.20" y="375.64" fill="#262626" stroke="#262626">0.76</text>
<text x="764.40" y="375.64" fill="#fff" stroke="#fff">-0.23</text>
<text x="801.60" y="375.64" fill="#fff" stroke="#fff">0.2</text>
<text x="838.80" y="375.64" fill="#fff" stroke="#fff">0.19</text>
<text x="876.00" y="375.64" fill="#fff" stroke="#fff">0.36</text>
<text x="913.20" y="375.64" fill="#fff" stroke="#fff">-0.13</text>
<text x="950.40" y="375.64" fill="#fff" stroke="#fff">-0.037</text>
<text x="987.60" y="375.64" fill="#262626" stroke="#262626">1</text>
<text x="1024.80" y="375.64" fill="#fff" stroke="#fff">0.36</text>
<text x="1062.00" y="375.64" fill="#262626" stroke="#262626">0.99</text>
<text x="1099.20" y="375.64" fill="#262626" stroke="#262626">0.98</text>
<text x="1136.40" y="375.64" fill="#fff" stroke="#fff">0.22</text>
<text x="1173.60" y="375.64" fill="#fff" stroke="#fff">0.48</text>
<text x="1210.80" y="375.64" fill="#fff" stroke="#fff">0.57</text>
<text x="1248.00" y="375.64" fill="#262626" stroke="#262626">0.79</text>
<text x="1285.20" y="375.64" fill="#fff" stroke="#fff">0.24</text>
<text x="1322.40" y="375.64" fill="#fff" stroke="#fff">0.093</text>
<text x="243.60" y="390.43" fill="#fff" stroke="#fff">0.3</text>
<text x="280.80" y="390.43" fill="#262626" stroke="#262626">0.91</text>
<text x="318.00" y="390.43" fill="#fff" stroke="#fff">0.3</text>
<text x="355.20" y="390.43" fill="#fff" stroke="#fff">0.29</text>
<text x="392.40" y="390.43" fill="#fff" stroke="#fff">0.036</text>
<text x="429.60" y="390.43" fill="#fff" stroke="#fff">0.25</text>
<text x="466.80" y="390.43" fill="#fff" stroke="#fff">0.3</text>
<text x="504.00" y="390.43" fill="#fff" stroke="#fff">0.29</text>
<text x="541.20" y="390.43" fill="#fff" stroke="#fff">0.091</text>
<text x="578.40" y="390.43" fill="#fff" stroke="#fff">-0.051</text>
<text x="615.60" y="390.43" fill="#fff" stroke="#fff">0.19</text>
<text x="652.80" y="390.43" fill="#fff" stroke="#fff">0.41</text>
<text x="690.00" y="390.43" fill="#fff" stroke="#fff">0.2</text>
<text x="727.20" y="390.43" fill="#fff" stroke="#fff">0.2</text>
<text x="764.40" y="390.43" fill="#fff" stroke="#fff">-0.075</text>
<text x="801.60" y="390.43" fill="#fff" stroke="#fff">0.14</text>
<text x="838.80" y="390.43" fill="#fff" stroke="#fff">0.1</text>
<text x="876.00" y="390.43" fill="#fff" stroke="#fff">0.087</text>
<text x="913.20" y="390.43" fill="#fff" stroke="#fff">-0.077</text>
<text x="950.40" y="390.43" fill="#fff" stroke="#fff">-0.0032</text>
<text x="987.60" y="390.43" fill="#fff" stroke="#fff">0.36</text>
<text x="1024.80" y="390.43" fill="#262626" stroke="#262626">1</text>
<text x="1062.00" y="390.43" fill="#fff" stroke="#fff">0.37</text>
<text x="1099.20" y="390.43" fill="#fff" stroke="#fff">0.35</text>
<text x="1136.40" y="390.43" fill="#fff" stroke="#fff">0.23</text>
<text x="1173.60" y="390.43" fill="#fff" stroke="#fff">0.36</text>
<text x="1210.80" y="390.43" fill="#fff" stroke="#fff">0.37</text>
<text x="1248.00" y="390.43" fill="#fff" stroke="#fff">0.36</text>
<text x="1285.20" y="390.43" fill="#fff" stroke="#fff">0.23</text>
<text x="1322.40" y="390.43" fill="#fff" stroke="#fff">0.22</text>
<text x="243.60" y="405.21" fill="#262626" stroke="#262626">0.97</text>
<text x="280.80" y="405.21" fill="#fff" stroke="#fff">0.36</text>
<text x="318.00" y="405.21" fill="#262626" stroke="#262626">0.97</text>
<text x="355.20" y="405.21" fill="#262626" stroke="#262626">0.96</text>
<text x="392.40" y="405.21" fill="#fff" stroke="#fff">0.24</text>
<text x="429.60" y="405.21" fill="#fff" stroke="#fff">0.59</text>
<text x="466.80" y="405.21" fill="#262626" stroke="#262626">0.73</text>
<text x="504.00" y="405.21" fill="#262626" stroke="#262626">0.86</text>
<text x="541.20" y="405.21" fill="#fff" stroke="#fff">0.22</text>
<text x="578.40" y="405.21" fill="#fff" stroke="#fff">-0.21</text>
<text x="615.60" y="405.21" fill="#262626" stroke="#262626">0.72</text>
<text x="652.80" y="405.21" fill="#fff" stroke="#fff">-0.1</text>
<text x="690.00" y="405.21" fill="#262626" stroke="#262626">0.72</text>
<text x="727.20" y="405.21" fill="#262626" stroke="#262626">0.76</text>
<text x="764.40" y="405.21" fill="#fff" stroke="#fff">-0.22</text>
<text x="801.60" y="405.21" fill="#fff" stroke="#fff">0.26</text>
<text x="838.80" y="405.21" fill="#fff" stroke="#fff">0.23</text>
<text x="876.00" y="405.21" fill="#fff" stroke="#fff">0.39</text>
<text x="913.20" y="405.21" fill="#fff" stroke="#fff">-0.1</text>
<text x="950.40" y="405.21" fill="#fff" stroke="#fff">-0.001</text>
<text x="987.60" y="405.21" fill="#262626" stroke="#262626">0.99</text>
<text x="1024.80" y="405.21" fill="#fff" stroke="#fff">0.37</text>
<text x="1062.00" y="405.21" fill="#262626" stroke="#262626">1</text>
<text x="1099.20" y="405.21" fill="#262626" stroke="#262626">0.98</text>
<text x="1136.40" y="405.21" fill="#fff" stroke="#fff">0.24</text>
<text x="1173.60" y="405.21" fill="#fff" stroke="#fff">0.53</text>
<text x="1210.80" y="405.21" fill="#fff" stroke="#fff">0.62</text>
<text x="1248.00" y="405.21" fill="#262626" stroke="#262626">0.82</text>
<text x="1285.20" y="405.21" fill="#fff" stroke="#fff">0.27</text>
<text x="1322.40" y="405.21" fill="#fff" stroke="#fff">0.14</text>
<text x="243.60" y="419.99" fill="#262626" stroke="#262626">0.94</text>
<text x="280.80" y="419.99" fill="#fff" stroke="#fff">0.34</text>
<text x="318.00" y="419.99" fill="#262626" stroke="#262626">0.94</text>
<text x="355.20" y="419.99" fill="#262626" stroke="#262626">0.96</text>
<text x="392.40" y="419.99" fill="#fff" stroke="#fff">0.21</text>
<text x="429.60" y="419.99" fill="#fff" stroke="#fff">0.51</text>
<text x="466.80" y="419.99" fill="#fff" stroke="#fff">0.68</text>
<text x="504.00" y="419.99" fill="#262626" stroke="#262626">0.81</text>
<text x="541.20" y="419.99" fill="#fff" stroke="#fff">0.18</text>
<text x="578.40" y="419.99" fill="#fff" stroke="#fff">-0.23</text>
<text x="615.60" y="419.99" fill="#262626" stroke="#262626">0.75</text>
<text x="652.80" y="419.99" fill="#fff" stroke="#fff">-0.083</text>
<text x="690.00" y="419.99" fill="#262626" stroke="#262626">0.73</text>
<text x="727.20" y="419.99" fill="#262626" stroke="#262626">0.81</text>
<text x="764.40" y="419.99" fill="#fff" stroke="#fff">-0.18</text>
<text x="801.60" y="419.99" fill="#fff" stroke="#fff">0.2</text>
<text x="838.80" y="419.99" fill="#fff" stroke="#fff">0.19</text>
<text x="876.00" y="419.99" fill="#fff" stroke="#fff">0.34</text>
<text x="913.20" y="419.99" fill="#fff" stroke="#fff">-0.11</text>
<text x="950.40" y="419.99" fill="#fff" stroke="#fff">-0.023</text>
<text x="987.60" y="419.99" fill="#262626" stroke="#262626">0.98</text>
<text x="1024.80" y="419.99" fill="#fff" stroke="#fff">0.35</text>
<text x="1062.00" y="419.99" fill="#262626" stroke="#262626">0.98</text>
<text x="1099.20" y="419.99" fill="#262626" stroke="#262626">1</text>
<text x="1136.40" y="419.99" fill="#fff" stroke="#fff">0.21</text>
<text x="1173.60" y="419.99" fill="#fff" stroke="#fff">0.44</text>
<text x="1210.80" y="419.99" fill="#fff" stroke="#fff">0.54</text>
<text x="1248.00" y="419.99" fill="#262626" stroke="#262626">0.75</text>
<text x="1285.20" y="419.99" fill="#fff" stroke="#fff">0.21</text>
<text x="1322.40" y="419.99" fill="#fff" stroke="#fff">0.08</text>
<text x="243.60" y="434.78" fill="#fff" stroke="#fff">0.12</text>
<text x="280.80" y="434.78" fill="#fff" stroke="#fff">0.078</text>
<text x="318.00" y="434.78" fill="#fff" stroke="#fff">0.15</text>
<text x="355.20" y="434.78" fill="#fff" stroke="#fff">0.12</text>
<text x="392.40" y="434.78" fill="#262626" stroke="#262626">0.81</text>
<text x="429.60" y="434.78" fill="#fff" stroke="#fff">0.57</text>
<text x="466.80" y="434.78" fill="#fff" stroke="#fff">0.45</text>
<text x="504.00" y="434.78" fill="#fff" stroke="#fff">0.45</text>
<text x="541.20" y="434.78" fill="#fff" stroke="#fff">0.43</text>
<text x="578.40" y="434.78" fill="#fff" stroke="#fff">0.5</text>
<text x="615.60" y="434.78" fill="#fff" stroke="#fff">0.14</text>
<text x="652.80" y="434.78" fill="#fff" stroke="#fff">-0.074</text>
<text x="690.00" y="434.78" fill="#fff" stroke="#fff">0.13</text>
<text x="727.20" y="434.78" fill="#fff" stroke="#fff">0.13</text>
<text x="764.40" y="434.78" fill="#fff" stroke="#fff">0.31</text>
<text x="801.60" y="434.78" fill="#fff" stroke="#fff">0.23</text>
<text x="838.80" y="434.78" fill="#fff" stroke="#fff">0.17</text>
<text x="876.00" y="434.78" fill="#fff" stroke="#fff">0.22</text>
<text x="913.20" y="434.78" fill="#fff" stroke="#fff">-0.013</text>
<text x="950.40" y="434.78" fill="#fff" stroke="#fff">0.17</text>
<text x="987.60" y="434.78" fill="#fff" stroke="#fff">0.22</text>
<text x="1024.80" y="434.78" fill="#fff" stroke="#fff">0.23</text>
<text x="1062.00" y="434.78" fill="#fff" stroke="#fff">0.24</text>
<text x="1099.20" y="434.78" fill="#fff" stroke="#fff">0.21</text>
<text x="1136.40" y="434.78" fill="#262626" stroke="#262626">1</text>
<text x="1173.60" y="434.78" fill="#fff" stroke="#fff">0.57</text>
<text x="1210.80" y="434.78" fill="#fff" stroke="#fff">0.52</text>
<text x="1248.00" y="434.78" fill="#fff" stroke="#fff">0.55</text>
<text x="1285.20" y="434.78" fill="#fff" stroke="#fff">0.49</text>
<text x="1322.40" y="434.78" fill="#fff" stroke="#fff">0.62</text>
<text x="243.60" y="449.56" fill="#fff" stroke="#fff">0.41</text>
<text x="280.80" y="449.56" fill="#fff" stroke="#fff">0.28</text>
<text x="318.00" y="449.56" fill="#fff" stroke="#fff">0.46</text>
<text x="355.20" y="449.56" fill="#fff" stroke="#fff">0.39</text>
<text x="392.40" y="449.56" fill="#fff" stroke="#fff">0.47</text>
<text x="429.60" y="449.56" fill="#262626" stroke="#262626">0.87</text>
<text x="466.80" y="449.56" fill="#262626" stroke="#262626">0.75</text>
<text x="504.00" y="449.56" fill="#fff" stroke="#fff">0.67</text>
<text x="541.20" y="449.56" fill="#fff" stroke="#fff">0.47</text>
<text x="578.40" y="449.56" fill="#fff" stroke="#fff">0.46</text>
<text x="615.60" y="449.56" fill="#fff" stroke="#fff">0.29</text>
<text x="652.80" y="449.56" fill="#fff" stroke="#fff">-0.092</text>
<text x="690.00" y="449.56" fill="#fff" stroke="#fff">0.34</text>
<text x="727.20" y="449.56" fill="#fff" stroke="#fff">0.28</text>
<text x="764.40" y="449.56" fill="#fff" stroke="#fff">-0.056</text>
<text x="801.60" y="449.56" fill="#fff" stroke="#fff">0.68</text>
<text x="838.80" y="449.56" fill="#fff" stroke="#fff">0.48</text>
<text x="876.00" y="449.56" fill="#fff" stroke="#fff">0.45</text>
<text x="913.20" y="449.56" fill="#fff" stroke="#fff">0.06</text>
<text x="950.40" y="449.56" fill="#fff" stroke="#fff">0.39</text>
<text x="987.60" y="449.56" fill="#fff" stroke="#fff">0.48</text>
<text x="1024.80" y="449.56" fill="#fff" stroke="#fff">0.36</text>
<text x="1062.00" y="449.56" fill="#fff" stroke="#fff">0.53</text>
<text x="1099.20" y="449.56" fill="#fff" stroke="#fff">0.44</text>
<text x="1136.40" y="449.56" fill="#fff" stroke="#fff">0.57</text>
<text x="1173.60" y="449.56" fill="#262626" stroke="#262626">1</text>
<text x="1210.80" y="449.56" fill="#262626" stroke="#262626">0.89</text>
<text x="1248.00" y="449.56" fill="#262626" stroke="#262626">0.8</text>
<text x="1285.20" y="449.56" fill="#fff" stroke="#fff">0.61</text>
<text x="1322.40" y="449.56" fill="#262626" stroke="#262626">0.81</text>
<text x="243.60" y="464.35" fill="#fff" stroke="#fff">0.53</text>
<text x="280.80" y="464.35" fill="#fff" stroke="#fff">0.3</text>
<text x="318.00" y="464.35" fill="#fff" stroke="#fff">0.56</text>
<text x="355.20" y="464.35" fill="#fff" stroke="#fff">0.51</text>
<text x="392.40" y="464.35" fill="#fff" stroke="#fff">0.43</text>
<text x="429.60" y="464.35" fill="#262626" stroke="#262626">0.82</text>
<text x="466.80" y="464.35" fill="#262626" stroke="#262626">0.88</text>
<text x="504.00" y="464.35" fill="#262626" stroke="#262626">0.75</text>
<text x="541.20" y="464.35" fill="#fff" stroke="#fff">0.43</text>
<text x="578.40" y="464.35" fill="#fff" stroke="#fff">0.35</text>
<text x="615.60" y="464.35" fill="#fff" stroke="#fff">0.38</text>
<text x="652.80" y="464.35" fill="#fff" stroke="#fff">-0.069</text>
<text x="690.00" y="464.35" fill="#fff" stroke="#fff">0.42</text>
<text x="727.20" y="464.35" fill="#fff" stroke="#fff">0.39</text>
<text x="764.40" y="464.35" fill="#fff" stroke="#fff">-0.058</text>
<text x="801.60" y="464.35" fill="#fff" stroke="#fff">0.64</text>
<text x="838.80" y="464.35" fill="#fff" stroke="#fff">0.66</text>
<text x="876.00" y="464.35" fill="#fff" stroke="#fff">0.55</text>
<text x="913.20" y="464.35" fill="#fff" stroke="#fff">0.037</text>
<text x="950.40" y="464.35" fill="#fff" stroke="#fff">0.38</text>
<text x="987.60" y="464.35" fill="#fff" stroke="#fff">0.57</text>
<text x="1024.80" y="464.35" fill="#fff" stroke="#fff">0.37</text>
<text x="1062.00" y="464.35" fill="#fff" stroke="#fff">0.62</text>
<text x="1099.20" y="464.35" fill="#fff" stroke="#fff">0.54</text>
<text x="1136.40" y="464.35" fill="#fff" stroke="#fff">0.52</text>
<text x="1173.60" y="464.35" fill="#262626" stroke="#262626">0.89</text>
<text x="1210.80" y="464.35" fill="#262626" stroke="#262626">1</text>
<text x="1248.00" y="464.35" fill="#262626" stroke="#262626">0.86</text>
<text x="1285.20" y="464.35" fill="#fff" stroke="#fff">0.53</text>
<text x="1322.40" y="464.35" fill="#fff" stroke="#fff">0.69</text>
<text x="243.60" y="479.13" fill="#262626" stroke="#262626">0.74</text>
<text x="280.80" y="479.13" fill="#fff" stroke="#fff">0.3</text>
<text x="318.00" y="479.13" fill="#262626" stroke="#262626">0.77</text>
<text x="355.20" y="479.13" fill="#262626" stroke="#262626">0.72</text>
<text x="392.40" y="479.13" fill="#fff" stroke="#fff">0.5</text>
<text x="429.60" y="479.13" fill="#262626" stroke="#262626">0.82</text>
<text x="466.80" y="479.13" fill="#262626" stroke="#262626">0.86</text>
<text x="504.00" y="479.13" fill="#262626" stroke="#262626">0.91</text>
<text x="541.20" y="479.13" fill="#fff" stroke="#fff">0.43</text>
<text x="578.40" y="479.13" fill="#fff" stroke="#fff">0.18</text>
<text x="615.60" y="479.13" fill="#fff" stroke="#fff">0.53</text>
<text x="652.80" y="479.13" fill="#fff" stroke="#fff">-0.12</text>
<text x="690.00" y="479.13" fill="#fff" stroke="#fff">0.55</text>
<text x="727.20" y="479.13" fill="#fff" stroke="#fff">0.54</text>
<text x="764.40" y="479.13" fill="#fff" stroke="#fff">-0.1</text>
<text x="801.60" y="479.13" fill="#fff" stroke="#fff">0.48</text>
<text x="838.80" y="479.13" fill="#fff" stroke="#fff">0.44</text>
<text x="876.00" y="479.13" fill="#fff" stroke="#fff">0.6</text>
<text x="913.20" y="479.13" fill="#fff" stroke="#fff">-0.03</text>
<text x="950.40" y="479.13" fill="#fff" stroke="#fff">0.22</text>
<text x="987.60" y="479.13" fill="#262626" stroke="#262626">0.79</text>
<text x="1024.80" y="479.13" fill="#fff" stroke="#fff">0.36</text>
<text x="1062.00" y="479.13" fill="#262626" stroke="#262626">0.82</text>
<text x="1099.20" y="479.13" fill="#262626" stroke="#262626">0.75</text>
<text x="1136.40" y="479.13" fill="#fff" stroke="#fff">0.55</text>
<text x="1173.60" y="479.13" fill="#262626" stroke="#262626">0.8</text>
<text x="1210.80" y="479.13" fill="#262626" stroke="#262626">0.86</text>
<text x="1248.00" y="479.13" fill="#262626" stroke="#262626">1</text>
<text x="1285.20" y="479.13" fill="#fff" stroke="#fff">0.5</text>
<text x="1322.40" y="479.13" fill="#fff" stroke="#fff">0.51</text>
<text x="243.60" y="493.91" fill="#fff" stroke="#fff">0.16</text>
<text x="280.80" y="493.91" fill="#fff" stroke="#fff">0.11</text>
<text x="318.00" y="493.91" fill="#fff" stroke="#fff">0.19</text>
<text x="355.20" y="493.91" fill="#fff" stroke="#fff">0.14</text>
<text x="392.40" y="493.91" fill="#fff" stroke="#fff">0.39</text>
<text x="429.60" y="493.91" fill="#fff" stroke="#fff">0.51</text>
<text x="466.80" y="493.91" fill="#fff" stroke="#fff">0.41</text>
<text x="504.00" y="493.91" fill="#fff" stroke="#fff">0.38</text>
<text x="541.20" y="493.91" fill="#fff" stroke="#fff">0.7</text>
<text x="578.40" y="493.91" fill="#fff" stroke="#fff">0.33</text>
<text x="615.60" y="493.91" fill="#fff" stroke="#fff">0.095</text>
<text x="652.80" y="493.91" fill="#fff" stroke="#fff">-0.13</text>
<text x="690.00" y="493.91" fill="#fff" stroke="#fff">0.11</text>
<text x="727.20" y="493.91" fill="#fff" stroke="#fff">0.074</text>
<text x="764.40" y="493.91" fill="#fff" stroke="#fff">-0.11</text>
<text x="801.60" y="493.91" fill="#fff" stroke="#fff">0.28</text>
<text x="838.80" y="493.91" fill="#fff" stroke="#fff">0.2</text>
<text x="876.00" y="493.91" fill="#fff" stroke="#fff">0.14</text>
<text x="913.20" y="493.91" fill="#fff" stroke="#fff">0.39</text>
<text x="950.40" y="493.91" fill="#fff" stroke="#fff">0.11</text>
<text x="987.60" y="493.91" fill="#fff" stroke="#fff">0.24</text>
<text x="1024.80" y="493.91" fill="#fff" stroke="#fff">0.23</text>
<text x="1062.00" y="493.91" fill="#fff" stroke="#fff">0.27</text>
<text x="1099.20" y="493.91" fill="#fff" stroke="#fff">0.21</text>
<text x="1136.40" y="493.91" fill="#fff" stroke="#fff">0.49</text>
<text x="1173.60" y="493.91" fill="#fff" stroke="#fff">0.61</text>
<text x="1210.80" y="493.91" fill="#fff" stroke="#fff">0.53</text>
<text x="1248.00" y="493.91" fill="#fff" stroke="#fff">0.5</text>
<text x="1285.20" y="493.91" fill="#262626" stroke="#262626">1</text>
<text x="1322.40" y="493.91" fill="#fff" stroke="#fff">0.54</text>
<text x="243.60" y="508.70" fill="#fff" stroke="#fff">0.0071</text>
<text x="280.80" y="508.70" fill="#fff" stroke="#fff">0.12</text>
<text x="318.00" y="508.70" fill="#fff" stroke="#fff">0.051</text>
<text x="355.20" y="508.70" fill="#fff" stroke="#fff">0.0037</text>
<text x="392.40" y="508.70" fill="#fff" stroke="#fff">0.5</text>
<text x="429.60" y="508.70" fill="#fff" stroke="#fff">0.69</text>
<text x="466.80" y="508.70" fill="#fff" stroke="#fff">0.51</text>
<text x="504.00" y="508.70" fill="#fff" stroke="#fff">0.37</text>
<text x="541.20" y="508.70" fill="#fff" stroke="#fff">0.44</text>
<text x="578.40" y="508.70" fill="#262626" stroke="#262626">0.77</text>
<text x="615.60" y="508.70" fill="#fff" stroke="#fff">0.05</text>
<text x="652.80" y="508.70" fill="#fff" stroke="#fff">-0.046</text>
<text x="690.00" y="508.70" fill="#fff" stroke="#fff">0.085</text>
<text x="727.20" y="508.70" fill="#fff" stroke="#fff">0.018</text>
<text x="764.40" y="508.70" fill="#fff" stroke="#fff">0.1</text>
<text x="801.60" y="508.70" fill="#fff" stroke="#fff">0.59</text>
<text x="838.80" y="508.70" fill="#fff" stroke="#fff">0.44</text>
<text x="876.00" y="508.70" fill="#fff" stroke="#fff">0.31</text>
<text x="913.20" y="508.70" fill="#fff" stroke="#fff">0.078</text>
<text x="950.40" y="508.70" fill="#fff" stroke="#fff">0.59</text>
<text x="987.60" y="508.70" fill="#fff" stroke="#fff">0.093</text>
<text x="1024.80" y="508.70" fill="#fff" stroke="#fff">0.22</text>
<text x="1062.00" y="508.70" fill="#fff" stroke="#fff">0.14</text>
<text x="1099.20" y="508.70" fill="#fff" stroke="#fff">0.08</text>
<text x="1136.40" y="508.70" fill="#fff" stroke="#fff">0.62</text>
<text x="1173.60" y="508.70" fill="#262626" stroke="#262626">0.81</text>
<text x="1210.80" y="508.70" fill="#fff" stroke="#fff">0.69</text>
<text x="1248.00" y="508.70" fill="#fff" stroke="#fff">0.51</text>
<text x="1285.20" y="508.70" fill="#fff" stroke="#fff">0.54</text>
<text x="1322.40" y="508.70" fill="#262626" stroke="#262626">1</text>
</g>
<g font-size="10.0" text-anchor="end" fill="#262626" stroke="#262626" stroke-width="0.35">
<text x="218.00" y="79.96">radius_mean</text>
<text x="218.00" y="94.75">texture_mean</text>
<text x="218.00" y="109.53">perimeter_mean</text>
<text x="218.00" y="124.31">area_mean</text>
<text x="218.00" y="139.10">smoothness_mean</text>
<text x="218.00" y="153.88">compactness_mean</text>
<text x="218.00" y="168.67">concavity_mean</text>
<text x="218.00" y="183.45">concave points_mean</text>
<text x="218.00" y="198.23">symmetry_mean</text>
<text x="218.00" y="213.02">fractal_dimension_mean</text>
<text x="218.00" y="227.80">radius_se</text>
<text x="218.00" y="242.59">texture_se</text>
<text x="218.00" y="257.37">perimeter_se</text>
<text x="218.00" y="272.15">area_se</text>
<text x="218.00" y="286.94">smoothness_se</text>
<text x="218.00" y="301.72">compactness_se</text>
<text x="218.00" y="316.51">concavity_se</text>
<text x="218.00" y="331.29">concave points_se</text>
<text x="218.00" y="346.07">symmetry_se</text>
<text x="218.00" y="360.86">fractal_dimension_se</text>
<text x="218.00" y="375.64">radius_worst</text>
<text x="218.00" y="390.43">texture_worst</text>
<text x="218.00" y="405.21">perimeter_worst</text>
<text x="218.00" y="419.99">area_worst</text>
<text x="218.00" y="434.78">smoothness_worst</text>
<text x="218.00" y="449.56">compactness_worst</text>
<text x="218.00" y="464.35">concavity_worst</text>
<text x="218.00" y="479.13">concave points_worst</text>
<text x="218.00" y="493.91">symmetry_worst</text>
<text x="218.00" y="508.70">fractal_dimension_worst</text>
</g>
<g stroke="#262626" stroke-width="1.3">
<line x1="221.50" x2="225.00" y1="76.51" y2="76.51"/>
<line x1="221.50" x2="225.00" y1="91.30" y2="91.30"/>
<line x1="221.50" x2="225.00" y1="106.08" y2="106.08"/>
<line x1="221.50" x2="225.00" y1="120.86" y2="120.86"/>
<line x1="221.50" x2="225.00" y1="135.65" y2="135.65"/>
<line x1="221.50" x2="225.00" y1="150.43" y2="150.43"/>
<line x1="221.50" x2="225.00" y1="165.22" y2="165.22"/>
<line x1="221.50" x2="225.00" y1="180.00" y2="180.00"/>
<line x1="221.50" x2="225.00" y1="194.78" y2="194.78"/>
<line x1="221.50" x2="225.00" y1="209.57" y2="209.57"/>
<line x1="221.50" x2="225.00" y1="224.35" y2="224.35"/>
<line x1="221.50" x2="225.00" y1="239.14" y2="239.14"/>
<line x1="221.50" x2="225.00" y1="253.92" y2="253.92"/>
<line x1="221.50" x2="225.00" y1="268.70" y2="268.70"/>
<line x1="221.50" x2="225.00" y1="283.49" y2="283.49"/>
<line x1="221.50" x2="225.00" y1="298.27" y2="298.27"/>
<line x1="221.50" x2="225.00" y1="313.06" y2="313.06"/>
<line x1="221.50" x2="225.00" y1="327.84" y2="327.84"/>
<line x1="221.50" x2="225.00" y1="342.62" y2="342.62"/>
<line x1="221.50" x2="225.00" y1="357.41" y2="357.41"/>
<line x1="221.50" x2="225.00" y1="372.19" y2="372.19"/>
<line x1="221.50" x2="225.00" y1="386.98" y2="386.98"/>
<line x1="221.50" x2="225.00" y1="401.76" y2="401.76"/>
<line x1="221.50" x2="225.00" y1="416.54" y2="416.54"/>
<line x1="221.50" x2="225.00" y1="431.33" y2="431.33"/>
<line x1="221.50" x2="225.00" y1="446.11" y2="446.11"/>
<line x1="221.50" x2="225.00" y1="460.90" y2="460.90"/>
<line x1="221.50" x2="225.00" y1="475.68" y2="475.68"/>
<line x1="221.50" x2="225.00" y1="490.46" y2="490.46"/>
<line x1="221.50" x2="225.00" y1="505.25" y2="505.25"/>
<line x1="243.60" x2="243.60" y1="512.64" y2="516.14"/>
<line x1="280.80" x2="280.80" y1="512.64" y2="516.14"/>
<line x1="318.00" x2="318.00" y1="512.64" y2="516.14"/>
<line x1="355.20" x2="355.20" y1="512.64" y2="516.14"/>
<line x1="392.40" x2="392.40" y1="512.64" y2="516.14"/>
<line x1="429.60" x2="429.60" y1="512.64" y2="516.14"/>
<line x1="466.80" x2="466.80" y1="512.64" y2="516.14"/>
<line x1="504.00" x2="504.00" y1="512.64" y2="516.14"/>
<line x1="541.20" x2="541.20" y1="512.64" y2="516.14"/>
<line x1="578.40" x2="578.40" y1="512.64" y2="516.14"/>
<line x1="615.60" x2="615.60" y1="512.64" y2="516.14"/>
<line x1="652.80" x2="652.80" y1="512.64" y2="516.14"/>
<line x1="690.00" x2="690.00" y1="512.64" y2="516.14"/>
<line x1="727.20" x2="727.20" y1="512.64" y2="516.14"/>
<line x1="764.40" x2="764.40" y1="512.64" y2="516.14"/>
<line x1="801.60" x2="801.60" y1="512.64" y2="516.14"/>
<line x1="838.80" x2="838.80" y1="512.64" y2="516.14"/>
<line x1="876.00" x2="876.00" y1="512.64" y2="516.14"/>
<line x1="913.20" x2="913.20" y1="512.64" y2="516.14"/>
<line x1="950.40" x2="950.40" y1="512.64" y2="516.14"/>
<line x1="987.60" x2="987.60" y1="512.64" y2="516.14"/>
<line x1="1024.80" x2="1024.80" y1="512.64" y2="516.14"/>
<line x1="1062.00" x2="1062.00" y1="512.64" y2="516.14"/>
<line x1="1099.20" x2="1099.20" y1="512.64" y2="516.14"/>
<line x1="1136.40" x2="1136.40" y1="512.64" y2="516.14"/>
<line x1="1173.60" x2="1173.60" y1="512.64" y2="516.14"/>
<line x1="1210.80" x2="1210.80" y1="512.64" y2="516.14"/>
<line x1="1248.00" x2="1248.00" y1="512.64" y2="516.14"/>
<line x1="1285.20" x2="1285.20" y1="512.64" y2="516.14"/>
<line x1="1322.40" x2="1322.40" y1="512.64" y2="516.14"/>
</g>
<g font-size="10.15" text-anchor="end" fill="#262626" stroke="#262626" stroke-width="0.35">
<text transform="translate(245.55,521.64) rotate(-90)">radius_mean</text>
<text transform="translate(282.75,521.64) rotate(-90)">texture_mean</text>
<text transform="translate(319.95,521.64) rotate(-90)">perimeter_mean</text>
<text transform="translate(357.15,521.64) rotate(-90)">area_mean</text>
<text transform="translate(394.35,521.64) rotate(-90)">smoothness_mean</text>
<text transform="translate(431.55,521.64) rotate(-90)">compactness_mean</text>
<text transform="translate(468.75,521.64) rotate(-90)">concavity_mean</text>
<text transform="translate(505.95,521.64) rotate(-90)">concave points_mean</text>
<text transform="translate(543.15,521.64) rotate(-90)">symmetry_mean</text>
<text transform="translate(580.35,521.64) rotate(-90)">fractal_dimension_mean</text>
<text transform="translate(617.55,521.64) rotate(-90)">radius_se</text>
<text transform="translate(654.75,521.64) rotate(-90)">texture_se</text>
<text transform="translate(691.95,521.64) rotate(-90)">perimeter_se</text>
<text transform="translate(729.15,521.64) rotate(-90)">area_se</text>
<text transform="translate(766.35,521.64) rotate(-90)">smoothness_se</text>
<text transform="translate(803.55,521.64) rotate(-90)">compactness_se</text>
<text transform="translate(840.75,521.64) rotate(-90)">concavity_se</text>
<text transform="translate(877.95,521.64) rotate(-90)">concave points_se</text>
<text transform="translate(915.15,521.64) rotate(-90)">symmetry_se</text>
<text transform="translate(952.35,521.64) rotate(-90)">fractal_dimension_se</text>
<text transform="translate(989.55,521.64) rotate(-90)">radius_worst</text>
<text transform="translate(1026.75,521.64) rotate(-90)">texture_worst</text>
<text transform="translate(1063.95,521.64) rotate(-90)">perimeter_worst</text>
<text transform="translate(1101.15,521.64) rotate(-90)">area_worst</text>
<text transform="translate(1138.35,521.64) rotate(-90)">smoothness_worst</text>
<text transform="translate(1175.55,521.64) rotate(-90)">compactness_worst</text>
<text transform="translate(1212.75,521.64) rotate(-90)">concavity_worst</text>
<text transform="translate(1249.95,521.64) rotate(-90)">concave points_worst</text>
<text transform="translate(1287.15,521.64) rotate(-90)">symmetry_worst</text>
<text transform="translate(1324.35,521.64) rotate(-90)">fractal_dimension_worst</text>
</g>
<defs><linearGradient id="cb" x1="0" y1="0" x2="0" y2="1"><stop offset="0.0000" stop-color="#faebdd"/><stop offset="0.0079" stop-color="#fae8d8"/><stop offset="0.0157" stop-color="#f9e5d4"/><stop offset="0.0236" stop-color="#f9e2d0"/><stop offset="0.0315" stop-color="#f9dfcb"/><stop offset="0.0394" stop-color="#f8dcc7"/><stop offset="0.0472" stop-color="#f8d9c3"/><stop offset="0.0551" stop-color="#f8d6be"/><stop offset="0.0630" stop-color="#f8d3ba"/><stop offset="0.0709" stop-color="#f7d0b5"/><stop offset="0.0787" stop-color="#f7cdb1"/><stop offset="0.0866" stop-color="#f7caac"/><stop offset="0.0945" stop-color="#f7c7a8"/><stop offset="0.1024" stop-color="#f7c4a4"/><stop offset="0.1102" stop-color="#f6c19f"/><stop offset="0.1181" stop-color="#f6be9b"/><stop offset="0.1260" stop-color="#f6bb97"/><stop offset="0.1339" stop-color="#f6b893"/><stop offset="0.1417" stop-color="#f6b48f"/><stop offset="0.1496" stop-color="#f6b18b"/><stop offset="0.1575" stop-color="#f6ae87"/><stop offset="0.1654" stop-color="#f6ab83"/><stop offset="0.1732" stop-color="#f6a880"/><stop offset="0.1811" stop-color="#f6a47c"/><stop offset="0.1890" stop-color="#f6a178"/><stop offset="0.1969" stop-color="#f69e75"/><stop offset="0.2047" stop-color="#f69b71"/><stop offset="0.2126" stop-color="#f5976e"/><stop offset="0.2205" stop-color="#f5946b"/><stop offset="0.2283" stop-color="#f59067"/><stop offset="0.2362" stop-color="#f58d64"/><stop offset="0.2441" stop-color="#f58a61"/><stop offset="0.2520" stop-color="#f4865e"/><stop offset="0.2598" stop-color="#f4835b"/><stop offset="0.2677" stop-color="#f47f58"/><stop offset="0.2756" stop-color="#f47c55"/><stop offset="0.2835" stop-color="#f37852"/><stop offset="0.2913" stop-color="#f37450"/><stop offset="0.2992" stop-color="#f3714d"/><stop offset="0.3071" stop-color="#f26d4b"/><stop offset="0.3150" stop-color="#f26948"/><stop offset="0.3228" stop-color="#f16646"/><stop offset="0.3307" stop-color="#f16244"/><stop offset="0.3386" stop-color="#f05e42"/><stop offset="0.3465" stop-color="#ef5a41"/><stop offset="0.3543" stop-color="#ef5640"/><stop offset="0.3622" stop-color="#ee523f"/><stop offset="0.3701" stop-color="#ed4e3e"/><stop offset="0.3780" stop-color="#ec4a3e"/><stop offset="0.3858" stop-color="#eb463e"/><stop offset="0.3937" stop-color="#e9423e"/><stop offset="0.4016" stop-color="#e83f3f"/><stop offset="0.4094" stop-color="#e63b40"/><stop offset="0.4173" stop-color="#e43841"/><stop offset="0.4252" stop-color="#e23442"/><stop offset="0.4331" stop-color="#e03143"/><stop offset="0.4409" stop-color="#de2e44"/><stop offset="0.4488" stop-color="#dc2b46"/><stop offset="0.4567" stop-color="#d92847"/><stop offset="0.4646" stop-color="#d72549"/><stop offset="0.4724" stop-color="#d5224a"/><stop offset="0.4803" stop-color="#d2204c"/><stop offset="0.4882" stop-color="#cf1e4d"/><stop offset="0.4961" stop-color="#cd1c4e"/><stop offset="0.5039" stop-color="#c81951"/><stop offset="0.5118" stop-color="#c51852"/><stop offset="0.5197" stop-color="#c21753"/><stop offset="0.5276" stop-color="#bf1654"/><stop offset="0.5354" stop-color="#bc1656"/><stop offset="0.5433" stop-color="#b91657"/><stop offset="0.5512" stop-color="#b51657"/><stop offset="0.5591" stop-color="#b21758"/><stop offset="0.5669" stop-color="#af1759"/><stop offset="0.5748" stop-color="#ab185a"/><stop offset="0.5827" stop-color="#a8185a"/><stop offset="0.5906" stop-color="#a4195b"/><stop offset="0.5984" stop-color="#a11a5b"/><stop offset="0.6063" stop-color="#9e1a5b"/><stop offset="0.6142" stop-color="#9a1b5b"/><stop offset="0.6220" stop-color="#971c5b"/><stop offset="0.6299" stop-color="#931c5b"/><stop offset="0.6378" stop-color="#901d5b"/><stop offset="0.6457" stop-color="#8c1d5b"/><stop offset="0.6535" stop-color="#891e5b"/><stop offset="0.6614" stop-color="#861e5b"/><stop offset="0.6693" stop-color="#821e5a"/><stop offset="0.6772" stop-color="#7f1e5a"/><stop offset="0.6850" stop-color="#7b1f59"/><stop offset="0.6929" stop-color="#781f59"/><stop offset="0.7008" stop-color="#751f58"/><stop offset="0.7087" stop-color="#711f57"/><stop offset="0.7165" stop-color="#6e1f57"/><stop offset="0.7244" stop-color="#6b1f56"/><stop offset="0.7323" stop-color="#681f55"/><stop offset="0.7402" stop-color="#641f54"/><stop offset="0.7480" stop-color="#611f53"/><stop offset="0.7559" stop-color="#5e1f52"/><stop offset="0.7638" stop-color="#5b1e51"/><stop offset="0.7717" stop-color="#581e4f"/><stop offset="0.7795" stop-color="#541e4e"/><stop offset="0.7874" stop-color="#511e4d"/><stop offset="0.7953" stop-color="#4e1d4b"/><stop offset="0.8031" stop-color="#4b1d4a"/><stop offset="0.8110" stop-color="#481c48"/><stop offset="0.8189" stop-color="#451c47"/><stop offset="0.8268" stop-color="#421b45"/><stop offset="0.8346" stop-color="#3f1b43"/><stop offset="0.8425" stop-color="#3c1a42"/><stop offset="0.8504" stop-color="#381a40"/><stop offset="0.8583" stop-color="#35193e"/><stop offset="0.8661" stop-color="#33183c"/><stop offset="0.8740" stop-color="#30173a"/><stop offset="0.8819" stop-color="#2d1738"/><stop offset="0.8898" stop-color="#2a1636"/><stop offset="0.8976" stop-color="#271534"/><stop offset="0.9055" stop-color="#241432"/><stop offset="0.9134" stop-color="#211330"/><stop offset="0.9213" stop-color="#1e122d"/><stop offset="0.9291" stop-color="#1b112b"/><stop offset="0.9370" stop-color="#180f29"/><stop offset="0.9449" stop-color="#160e27"/><stop offset="0.9528" stop-color="#130d25"/><stop offset="0.9606" stop-color="#100b23"/><stop offset="0.9685" stop-color="#0d0a21"/><stop offset="0.9764" stop-color="#0a091f"/><stop offset="0.9843" stop-color="#07071d"/><stop offset="0.9921" stop-color="#05061b"/><stop offset="1.0000" stop-color="#03051a"/></linearGradient></defs>
<rect x="1412.26" y="69.12" width="20.07" height="443.52" fill="url(#cb)"/>
<g font-size="10.0" fill="#262626" stroke-width="0.35">
<line x1="1432.33" x2="1435.83" y1="474.89" y2="474.89" stroke="#262626" stroke-width="1.3"/>
<text x="1439.33" y="478.34" stroke="#262626">−0.2</text>
<line x1="1432.33" x2="1435.83" y1="407.26" y2="407.26" stroke="#262626" stroke-width="1.3"/>
<text x="1439.33" y="410.71" stroke="#262626">0.0</text>
<line x1="1432.33" x2="1435.83" y1="339.64" y2="339.64" stroke="#262626" stroke-width="1.3"/>
<text x="1439.33" y="343.09" stroke="#262626">0.2</text>
<line x1="1432.33" x2="1435.83" y1="272.01" y2="272.01" stroke="#262626" stroke-width="1.3"/>
<text x="1439.33" y="275.46" stroke="#262626">0.4</text>
<line x1="1432.33" x2="1435.83" y1="204.38" y2="204.38" stroke="#262626" stroke-width="1.3"/>
<text x="1439.33" y="207.83" stroke="#262626">0.6</text>
<line x1="1432.33" x2="1435.83" y1="136.75" y2="136.75" stroke="#262626" stroke-width="1.3"/>
<text x="1439.33" y="140.20" stroke="#262626">0.8</text>
<line x1="1432.33" x2="1435.83" y1="69.12" y2="69.12" stroke="#262626" stroke-width="1.3"/>
<text x="1439.33" y="72.57" stroke="#262626">1.0</text>
</g>
</g>
</svg>
</body></html>
